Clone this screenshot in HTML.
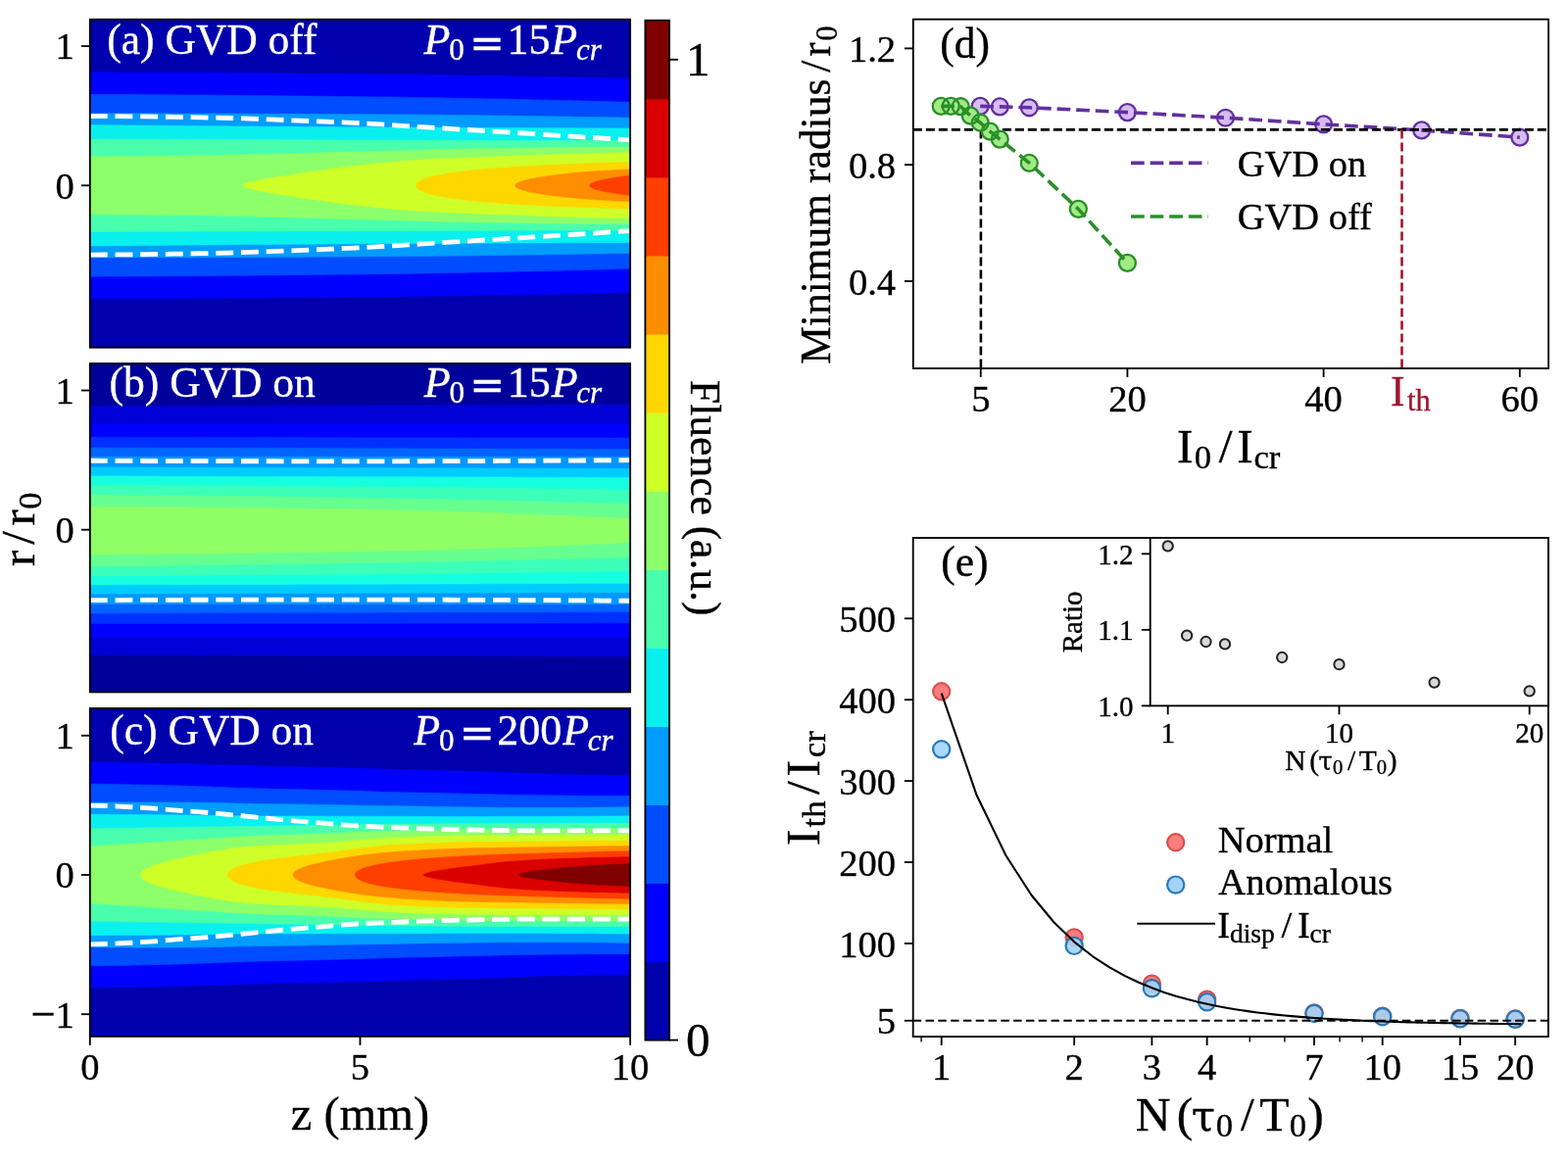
<!DOCTYPE html>
<html lang="en"><head><meta charset="utf-8"><title>Fluence maps and threshold intensity</title>
<style>html,body{margin:0;padding:0;background:#fff}body{width:1600px;height:1184px;overflow:hidden}svg{display:block}text{font-family:'Liberation Serif', 'DejaVu Serif', serif;stroke:#000;stroke-width:.35px}text.w{fill:#fff;stroke:#fff}text.c{fill:#a2142f;stroke:#a2142f}</style>
</head><body>
<svg width="1600" height="1184" viewBox="0 0 1600 1184">
<rect width="1600" height="1184" fill="#fff"/>
<g id="panel-a">
<clipPath id="clip-a"><rect x="91.8" y="19.8" width="551.3" height="334.9"/></clipPath>
<g clip-path="url(#clip-a)">
<rect x="91.8" y="19.8" width="551.3" height="334.9" fill="#0000ad"/>
<polygon fill="#0000ff" stroke="#0000ff" stroke-width="0.6" points="91.8,73.83 101.14,73.84 110.49,73.86 119.83,73.88 129.18,73.9 138.52,73.93 147.86,73.96 157.21,74 166.55,74.04 175.9,74.08 185.24,74.13 194.58,74.18 203.93,74.23 213.27,74.29 222.62,74.35 231.96,74.42 241.31,74.48 250.65,74.55 259.99,74.62 269.34,74.7 278.68,74.77 288.03,74.85 297.37,74.93 306.71,75.01 316.06,75.09 325.4,75.18 334.75,75.26 344.09,75.35 353.43,75.43 362.78,75.52 372.12,75.61 381.47,75.69 390.81,75.79 400.15,75.89 409.5,75.99 418.84,76.1 428.19,76.22 437.53,76.35 446.87,76.48 456.22,76.61 465.56,76.76 474.91,76.9 484.25,77.06 493.59,77.21 502.94,77.37 512.28,77.54 521.63,77.71 530.97,77.88 540.32,78.06 549.66,78.25 559,78.43 568.35,78.62 577.69,78.81 587.04,79.01 596.38,79.21 605.72,79.41 615.07,79.61 624.41,79.82 633.76,80.02 643.1,80.23 643.1,298.37 633.76,298.58 624.41,298.78 615.07,298.99 605.72,299.19 596.38,299.39 587.04,299.59 577.69,299.79 568.35,299.98 559,300.17 549.66,300.35 540.32,300.54 530.97,300.72 521.63,300.89 512.28,301.06 502.94,301.23 493.59,301.39 484.25,301.54 474.91,301.7 465.56,301.84 456.22,301.99 446.87,302.12 437.53,302.25 428.19,302.38 418.84,302.5 409.5,302.61 400.15,302.71 390.81,302.81 381.47,302.91 372.12,302.99 362.78,303.08 353.43,303.17 344.09,303.25 334.75,303.34 325.4,303.42 316.06,303.51 306.71,303.59 297.37,303.67 288.03,303.75 278.68,303.83 269.34,303.9 259.99,303.98 250.65,304.05 241.31,304.12 231.96,304.18 222.62,304.25 213.27,304.31 203.93,304.37 194.58,304.42 185.24,304.47 175.9,304.52 166.55,304.56 157.21,304.6 147.86,304.64 138.52,304.67 129.18,304.7 119.83,304.72 110.49,304.74 101.14,304.76 91.8,304.77"/>
<polygon fill="#004cff" stroke="#004cff" stroke-width="0.6" points="91.8,96.44 101.14,96.47 110.49,96.49 119.83,96.52 129.18,96.56 138.52,96.6 147.86,96.65 157.21,96.7 166.55,96.76 175.9,96.82 185.24,96.88 194.58,96.95 203.93,97.02 213.27,97.1 222.62,97.18 231.96,97.26 241.31,97.34 250.65,97.43 259.99,97.52 269.34,97.61 278.68,97.71 288.03,97.81 297.37,97.91 306.71,98.01 316.06,98.11 325.4,98.22 334.75,98.33 344.09,98.43 353.43,98.54 362.78,98.65 372.12,98.77 381.47,98.88 390.81,98.99 400.15,99.12 409.5,99.25 418.84,99.39 428.19,99.53 437.53,99.68 446.87,99.84 456.22,100 465.56,100.17 474.91,100.35 484.25,100.53 493.59,100.72 502.94,100.91 512.28,101.1 521.63,101.31 530.97,101.51 540.32,101.72 549.66,101.94 559,102.15 568.35,102.38 577.69,102.6 587.04,102.83 596.38,103.06 605.72,103.3 615.07,103.54 624.41,103.78 633.76,104.02 643.1,104.26 643.1,274.34 633.76,274.58 624.41,274.82 615.07,275.06 605.72,275.3 596.38,275.54 587.04,275.77 577.69,276 568.35,276.22 559,276.45 549.66,276.66 540.32,276.88 530.97,277.09 521.63,277.29 512.28,277.5 502.94,277.69 493.59,277.88 484.25,278.07 474.91,278.25 465.56,278.43 456.22,278.6 446.87,278.76 437.53,278.92 428.19,279.07 418.84,279.21 409.5,279.35 400.15,279.48 390.81,279.61 381.47,279.72 372.12,279.83 362.78,279.95 353.43,280.06 344.09,280.17 334.75,280.27 325.4,280.38 316.06,280.49 306.71,280.59 297.37,280.69 288.03,280.79 278.68,280.89 269.34,280.99 259.99,281.08 250.65,281.17 241.31,281.26 231.96,281.34 222.62,281.42 213.27,281.5 203.93,281.58 194.58,281.65 185.24,281.72 175.9,281.78 166.55,281.84 157.21,281.9 147.86,281.95 138.52,282 129.18,282.04 119.83,282.08 110.49,282.11 101.14,282.13 91.8,282.16"/>
<polygon fill="#009cff" stroke="#009cff" stroke-width="0.6" points="91.8,115.78 101.14,115.78 110.49,115.79 119.83,115.8 129.18,115.81 138.52,115.82 147.86,115.83 157.21,115.85 166.55,115.87 175.9,115.89 185.24,115.92 194.58,115.94 203.93,115.97 213.27,116 222.62,116.03 231.96,116.07 241.31,116.1 250.65,116.14 259.99,116.18 269.34,116.22 278.68,116.26 288.03,116.3 297.37,116.35 306.71,116.39 316.06,116.44 325.4,116.49 334.75,116.53 344.09,116.58 353.43,116.63 362.78,116.68 372.12,116.73 381.47,116.79 390.81,116.84 400.15,116.9 409.5,116.97 418.84,117.05 428.19,117.13 437.53,117.22 446.87,117.31 456.22,117.41 465.56,117.51 474.91,117.62 484.25,117.73 493.59,117.85 502.94,117.97 512.28,118.1 521.63,118.23 530.97,118.36 540.32,118.5 549.66,118.64 559,118.79 568.35,118.93 577.69,119.08 587.04,119.24 596.38,119.39 605.72,119.55 615.07,119.71 624.41,119.87 633.76,120.03 643.1,120.19 643.1,258.41 633.76,258.57 624.41,258.73 615.07,258.89 605.72,259.05 596.38,259.21 587.04,259.36 577.69,259.52 568.35,259.67 559,259.81 549.66,259.96 540.32,260.1 530.97,260.24 521.63,260.37 512.28,260.5 502.94,260.63 493.59,260.75 484.25,260.87 474.91,260.98 465.56,261.09 456.22,261.19 446.87,261.29 437.53,261.38 428.19,261.47 418.84,261.55 409.5,261.63 400.15,261.7 390.81,261.76 381.47,261.81 372.12,261.87 362.78,261.92 353.43,261.97 344.09,262.02 334.75,262.07 325.4,262.11 316.06,262.16 306.71,262.21 297.37,262.25 288.03,262.3 278.68,262.34 269.34,262.38 259.99,262.42 250.65,262.46 241.31,262.5 231.96,262.53 222.62,262.57 213.27,262.6 203.93,262.63 194.58,262.66 185.24,262.68 175.9,262.71 166.55,262.73 157.21,262.75 147.86,262.77 138.52,262.78 129.18,262.79 119.83,262.8 110.49,262.81 101.14,262.82 91.8,262.82"/>
<polygon fill="#09f0ee" stroke="#09f0ee" stroke-width="0.6" points="91.8,127.59 101.14,127.68 110.49,127.77 119.83,127.85 129.18,127.94 138.52,128.03 147.86,128.12 157.21,128.2 166.55,128.28 175.9,128.37 185.24,128.45 194.58,128.53 203.93,128.61 213.27,128.69 222.62,128.77 231.96,128.84 241.31,128.92 250.65,128.99 259.99,129.06 269.34,129.13 278.68,129.2 288.03,129.27 297.37,129.34 306.71,129.4 316.06,129.47 325.4,129.53 334.75,129.59 344.09,129.65 353.43,129.71 362.78,129.76 372.12,129.82 381.47,129.87 390.81,129.92 400.15,129.97 409.5,130.02 418.84,130.07 428.19,130.12 437.53,130.17 446.87,130.22 456.22,130.26 465.56,130.31 474.91,130.36 484.25,130.4 493.59,130.44 502.94,130.49 512.28,130.53 521.63,130.57 530.97,130.61 540.32,130.65 549.66,130.69 559,130.72 568.35,130.76 577.69,130.79 587.04,130.83 596.38,130.86 605.72,130.89 615.07,130.92 624.41,130.95 633.76,130.97 643.1,131 643.1,247.6 633.76,247.63 624.41,247.65 615.07,247.68 605.72,247.71 596.38,247.74 587.04,247.77 577.69,247.81 568.35,247.84 559,247.88 549.66,247.91 540.32,247.95 530.97,247.99 521.63,248.03 512.28,248.07 502.94,248.11 493.59,248.16 484.25,248.2 474.91,248.24 465.56,248.29 456.22,248.34 446.87,248.38 437.53,248.43 428.19,248.48 418.84,248.53 409.5,248.58 400.15,248.63 390.81,248.68 381.47,248.73 372.12,248.78 362.78,248.84 353.43,248.89 344.09,248.95 334.75,249.01 325.4,249.07 316.06,249.13 306.71,249.2 297.37,249.26 288.03,249.33 278.68,249.4 269.34,249.47 259.99,249.54 250.65,249.61 241.31,249.68 231.96,249.76 222.62,249.83 213.27,249.91 203.93,249.99 194.58,250.07 185.24,250.15 175.9,250.23 166.55,250.32 157.21,250.4 147.86,250.48 138.52,250.57 129.18,250.66 119.83,250.75 110.49,250.83 101.14,250.92 91.8,251.01"/>
<polygon fill="#49ffad" stroke="#49ffad" stroke-width="0.6" points="91.8,142.09 101.14,142.13 110.49,142.17 119.83,142.2 129.18,142.24 138.52,142.28 147.86,142.31 157.21,142.35 166.55,142.39 175.9,142.42 185.24,142.46 194.58,142.49 203.93,142.53 213.27,142.56 222.62,142.59 231.96,142.63 241.31,142.66 250.65,142.69 259.99,142.72 269.34,142.75 278.68,142.78 288.03,142.81 297.37,142.84 306.71,142.87 316.06,142.9 325.4,142.93 334.75,142.96 344.09,142.99 353.43,143.01 362.78,143.04 372.12,143.06 381.47,143.09 390.81,143.11 400.15,143.14 409.5,143.16 418.84,143.19 428.19,143.21 437.53,143.23 446.87,143.26 456.22,143.28 465.56,143.3 474.91,143.32 484.25,143.34 493.59,143.37 502.94,143.39 512.28,143.41 521.63,143.43 530.97,143.45 540.32,143.47 549.66,143.49 559,143.5 568.35,143.52 577.69,143.54 587.04,143.56 596.38,143.58 605.72,143.59 615.07,143.61 624.41,143.62 633.76,143.64 643.1,143.65 643.1,234.95 633.76,234.96 624.41,234.98 615.07,234.99 605.72,235.01 596.38,235.02 587.04,235.04 577.69,235.06 568.35,235.08 559,235.1 549.66,235.11 540.32,235.13 530.97,235.15 521.63,235.17 512.28,235.19 502.94,235.21 493.59,235.23 484.25,235.26 474.91,235.28 465.56,235.3 456.22,235.32 446.87,235.34 437.53,235.37 428.19,235.39 418.84,235.41 409.5,235.44 400.15,235.46 390.81,235.49 381.47,235.51 372.12,235.54 362.78,235.56 353.43,235.59 344.09,235.61 334.75,235.64 325.4,235.67 316.06,235.7 306.71,235.73 297.37,235.76 288.03,235.79 278.68,235.82 269.34,235.85 259.99,235.88 250.65,235.91 241.31,235.94 231.96,235.97 222.62,236.01 213.27,236.04 203.93,236.07 194.58,236.11 185.24,236.14 175.9,236.18 166.55,236.21 157.21,236.25 147.86,236.29 138.52,236.32 129.18,236.36 119.83,236.4 110.49,236.43 101.14,236.47 91.8,236.51"/>
<polygon fill="#8dff6a" stroke="#8dff6a" stroke-width="0.6" points="91.8,159.86 101.14,159.82 110.49,159.76 119.83,159.69 129.18,159.62 138.52,159.53 147.86,159.43 157.21,159.32 166.55,159.21 175.9,159.09 185.24,158.96 194.58,158.83 203.93,158.7 213.27,158.55 222.62,158.41 231.96,158.26 241.31,158.1 250.65,157.91 259.99,157.7 269.34,157.47 278.68,157.23 288.03,156.97 297.37,156.71 306.71,156.44 316.06,156.17 325.4,155.9 334.75,155.63 344.09,155.36 353.43,155.11 362.78,154.86 372.12,154.63 381.47,154.39 390.81,154.15 400.15,153.9 409.5,153.65 418.84,153.41 428.19,153.16 437.53,152.92 446.87,152.68 456.22,152.46 465.56,152.24 474.91,152.04 484.25,151.84 493.59,151.67 502.94,151.51 512.28,151.37 521.63,151.23 530.97,151.09 540.32,150.96 549.66,150.83 559,150.71 568.35,150.59 577.69,150.48 587.04,150.37 596.38,150.27 605.72,150.18 615.07,150.1 624.41,150.03 633.76,149.96 643.1,149.91 643.1,228.69 633.76,228.64 624.41,228.57 615.07,228.5 605.72,228.42 596.38,228.33 587.04,228.23 577.69,228.12 568.35,228.01 559,227.89 549.66,227.77 540.32,227.64 530.97,227.51 521.63,227.37 512.28,227.23 502.94,227.09 493.59,226.93 484.25,226.76 474.91,226.56 465.56,226.36 456.22,226.14 446.87,225.92 437.53,225.68 428.19,225.44 418.84,225.19 409.5,224.95 400.15,224.7 390.81,224.45 381.47,224.21 372.12,223.97 362.78,223.74 353.43,223.49 344.09,223.24 334.75,222.97 325.4,222.7 316.06,222.43 306.71,222.16 297.37,221.89 288.03,221.63 278.68,221.37 269.34,221.13 259.99,220.9 250.65,220.69 241.31,220.5 231.96,220.34 222.62,220.19 213.27,220.05 203.93,219.9 194.58,219.77 185.24,219.64 175.9,219.51 166.55,219.39 157.21,219.28 147.86,219.17 138.52,219.07 129.18,218.98 119.83,218.91 110.49,218.84 101.14,218.78 91.8,218.74"/>
<polygon fill="#ceff29" stroke="#ceff29" stroke-width="0.6" points="248.37,189.3 248.48,188.96 248.82,188.59 249.39,188.2 250.18,187.78 251.2,187.35 252.45,186.89 253.93,186.42 255.63,185.93 257.55,185.42 259.71,184.9 262.09,184.36 264.7,183.81 267.53,183.25 270.59,182.68 273.88,182.09 277.4,181.5 281.14,180.9 285.11,180.28 289.31,179.62 293.73,178.91 298.38,178.18 303.25,177.42 308.36,176.64 313.69,175.86 319.24,175.07 325.02,174.24 331.03,173.38 337.27,172.5 343.74,171.62 350.43,170.74 357.34,169.89 364.49,169.06 371.86,168.27 379.45,167.48 387.28,166.69 395.33,165.9 403.61,165.15 412.11,164.42 420.84,163.75 429.8,163.14 438.99,162.59 448.4,162.12 458.04,161.68 467.9,161.28 478,160.9 488.31,160.53 498.86,160.14 509.63,159.74 520.63,159.33 531.86,158.91 543.31,158.49 554.99,158.09 566.9,157.7 579.03,157.34 591.39,156.99 603.98,156.66 616.79,156.34 629.83,156.03 643.1,155.74 643.1,222.86 629.83,222.57 616.79,222.26 603.98,221.94 591.39,221.61 579.03,221.26 566.9,220.9 554.99,220.51 543.31,220.11 531.86,219.69 520.63,219.27 509.63,218.86 498.86,218.46 488.31,218.07 478,217.7 467.9,217.32 458.04,216.92 448.4,216.48 438.99,216.01 429.8,215.46 420.84,214.85 412.11,214.18 403.61,213.45 395.33,212.7 387.28,211.91 379.45,211.12 371.86,210.33 364.49,209.54 357.34,208.71 350.43,207.86 343.74,206.98 337.27,206.1 331.03,205.22 325.02,204.36 319.24,203.53 313.69,202.74 308.36,201.96 303.25,201.18 298.38,200.42 293.73,199.69 289.31,198.98 285.11,198.32 281.14,197.7 277.4,197.1 273.88,196.51 270.59,195.92 267.53,195.35 264.7,194.79 262.09,194.24 259.71,193.7 257.55,193.18 255.63,192.67 253.93,192.18 252.45,191.71 251.2,191.25 250.18,190.82 249.39,190.4 248.82,190.01 248.48,189.64 248.37,189.3"/>
<polygon fill="#ffd700" stroke="#ffd700" stroke-width="0.6" points="424.79,189.3 424.85,188.67 425.04,188.04 425.35,187.43 425.79,186.82 426.35,186.22 427.04,185.62 427.86,185.04 428.8,184.46 429.87,183.89 431.06,183.33 432.37,182.77 433.82,182.23 435.38,181.69 437.08,181.16 438.9,180.64 440.84,180.13 442.91,179.63 445.11,179.14 447.43,178.65 449.87,178.18 452.44,177.71 455.14,177.26 457.96,176.81 460.91,176.37 463.98,175.93 467.18,175.5 470.51,175.08 473.95,174.66 477.53,174.25 481.23,173.85 485.06,173.46 489.01,173.07 493.08,172.69 497.29,172.32 501.61,171.96 506.07,171.61 510.64,171.26 515.35,170.93 520.18,170.6 525.13,170.28 530.21,169.98 535.42,169.68 540.75,169.4 546.2,169.13 551.79,168.86 557.49,168.6 563.33,168.34 569.28,168.08 575.37,167.82 581.58,167.57 587.91,167.32 594.37,167.07 600.95,166.82 607.67,166.58 614.5,166.34 621.46,166.1 628.55,165.87 635.76,165.64 643.1,165.41 643.1,213.19 635.76,212.96 628.55,212.73 621.46,212.5 614.5,212.26 607.67,212.02 600.95,211.78 594.37,211.53 587.91,211.28 581.58,211.03 575.37,210.78 569.28,210.52 563.33,210.26 557.49,210 551.79,209.74 546.2,209.47 540.75,209.2 535.42,208.92 530.21,208.62 525.13,208.32 520.18,208 515.35,207.67 510.64,207.34 506.07,206.99 501.61,206.64 497.29,206.28 493.08,205.91 489.01,205.53 485.06,205.14 481.23,204.75 477.53,204.35 473.95,203.94 470.51,203.52 467.18,203.1 463.98,202.67 460.91,202.23 457.96,201.79 455.14,201.34 452.44,200.89 449.87,200.42 447.43,199.95 445.11,199.46 442.91,198.97 440.84,198.47 438.9,197.96 437.08,197.44 435.38,196.91 433.82,196.37 432.37,195.83 431.06,195.27 429.87,194.71 428.8,194.14 427.86,193.56 427.04,192.98 426.35,192.38 425.79,191.78 425.35,191.17 425.04,190.56 424.85,189.93 424.79,189.3"/>
<polygon fill="#ff8d00" stroke="#ff8d00" stroke-width="0.6" points="525.67,189.3 525.71,188.99 525.81,188.67 525.98,188.36 526.21,188.05 526.52,187.74 526.89,187.43 527.33,187.12 527.83,186.81 528.41,186.5 529.05,186.19 529.75,185.88 530.53,185.58 531.37,185.27 532.28,184.96 533.26,184.66 534.31,184.36 535.42,184.05 536.6,183.75 537.85,183.45 539.17,183.14 540.55,182.84 542,182.54 543.52,182.24 545.1,181.94 546.76,181.64 548.48,181.34 550.26,181.04 552.12,180.74 554.04,180.45 556.03,180.15 558.09,179.85 560.22,179.55 562.41,179.25 564.67,178.94 567,178.63 569.39,178.33 571.85,178.02 574.38,177.72 576.98,177.42 579.65,177.13 582.38,176.84 585.18,176.57 588.05,176.3 590.98,176.05 593.98,175.81 597.05,175.57 600.19,175.34 603.4,175.11 606.67,174.88 610.01,174.66 613.41,174.45 616.89,174.24 620.43,174.04 624.04,173.84 627.72,173.65 631.46,173.46 635.27,173.28 639.15,173.11 643.1,172.95 643.1,205.65 639.15,205.49 635.27,205.32 631.46,205.14 627.72,204.95 624.04,204.76 620.43,204.56 616.89,204.36 613.41,204.15 610.01,203.94 606.67,203.72 603.4,203.49 600.19,203.26 597.05,203.03 593.98,202.79 590.98,202.55 588.05,202.3 585.18,202.03 582.38,201.76 579.65,201.47 576.98,201.18 574.38,200.88 571.85,200.58 569.39,200.27 567,199.97 564.67,199.66 562.41,199.35 560.22,199.05 558.09,198.75 556.03,198.45 554.04,198.15 552.12,197.86 550.26,197.56 548.48,197.26 546.76,196.96 545.1,196.66 543.52,196.36 542,196.06 540.55,195.76 539.17,195.46 537.85,195.15 536.6,194.85 535.42,194.55 534.31,194.24 533.26,193.94 532.28,193.64 531.37,193.33 530.53,193.02 529.75,192.72 529.05,192.41 528.41,192.1 527.83,191.79 527.33,191.48 526.89,191.17 526.52,190.86 526.21,190.55 525.98,190.24 525.81,189.93 525.71,189.61 525.67,189.3"/>
<polygon fill="#ff3f00" stroke="#ff3f00" stroke-width="0.6" points="601.75,189.3 601.76,189.13 601.8,188.96 601.86,188.79 601.94,188.62 602.05,188.44 602.18,188.27 602.33,188.1 602.51,187.93 602.71,187.76 602.94,187.59 603.19,187.42 603.46,187.25 603.76,187.08 604.08,186.9 604.43,186.73 604.79,186.56 605.19,186.39 605.6,186.22 606.04,186.05 606.5,185.88 606.99,185.71 607.5,185.54 608.04,185.36 608.59,185.19 609.18,185.02 609.78,184.85 610.41,184.68 611.06,184.51 611.74,184.34 612.44,184.17 613.17,184 613.92,183.82 614.69,183.65 615.48,183.48 616.3,183.31 617.15,183.14 618.01,182.97 618.9,182.8 619.82,182.63 620.76,182.46 621.72,182.28 622.71,182.11 623.72,181.94 624.75,181.77 625.81,181.6 626.89,181.43 627.99,181.26 629.12,181.09 630.27,180.92 631.45,180.74 632.65,180.57 633.87,180.4 635.12,180.23 636.39,180.06 637.68,179.89 639,179.72 640.34,179.55 641.71,179.37 643.1,179.2 643.1,199.4 641.71,199.23 640.34,199.05 639,198.88 637.68,198.71 636.39,198.54 635.12,198.37 633.87,198.2 632.65,198.03 631.45,197.86 630.27,197.68 629.12,197.51 627.99,197.34 626.89,197.17 625.81,197 624.75,196.83 623.72,196.66 622.71,196.49 621.72,196.32 620.76,196.14 619.82,195.97 618.9,195.8 618.01,195.63 617.15,195.46 616.3,195.29 615.48,195.12 614.69,194.95 613.92,194.78 613.17,194.6 612.44,194.43 611.74,194.26 611.06,194.09 610.41,193.92 609.78,193.75 609.18,193.58 608.59,193.41 608.04,193.24 607.5,193.06 606.99,192.89 606.5,192.72 606.04,192.55 605.6,192.38 605.19,192.21 604.79,192.04 604.43,191.87 604.08,191.7 603.76,191.52 603.46,191.35 603.19,191.18 602.94,191.01 602.71,190.84 602.51,190.67 602.33,190.5 602.18,190.33 602.05,190.16 601.94,189.98 601.86,189.81 601.8,189.64 601.76,189.47 601.75,189.3"/>
<path d="M91.8,118.56 L105.94,118.58 L120.07,118.66 L134.21,118.79 L148.34,118.95 L162.48,119.15 L176.62,119.38 L190.75,119.63 L204.89,119.9 L219.02,120.19 L233.16,120.48 L247.29,120.89 L261.43,121.4 L275.57,121.96 L289.7,122.51 L303.84,123.06 L317.97,123.62 L332.11,124.2 L346.25,124.81 L360.38,125.46 L374.52,126.16 L388.65,126.93 L402.79,127.82 L416.93,128.77 L431.06,129.7 L445.2,130.58 L459.33,131.44 L473.47,132.29 L487.61,133.14 L501.74,134 L515.88,134.87 L530.01,135.75 L544.15,136.64 L558.28,137.54 L572.42,138.43 L586.56,139.33 L600.69,140.23 L614.83,141.13 L628.96,142.04 L643.1,142.94" fill="none" stroke="#fff" stroke-width="4.8" stroke-dasharray="17.9 7.8"/>
<path d="M91.8,260.04 L105.94,260.02 L120.07,259.94 L134.21,259.81 L148.34,259.65 L162.48,259.45 L176.62,259.22 L190.75,258.97 L204.89,258.7 L219.02,258.41 L233.16,258.12 L247.29,257.71 L261.43,257.2 L275.57,256.64 L289.7,256.09 L303.84,255.54 L317.97,254.98 L332.11,254.4 L346.25,253.79 L360.38,253.14 L374.52,252.44 L388.65,251.67 L402.79,250.78 L416.93,249.83 L431.06,248.9 L445.2,248.02 L459.33,247.16 L473.47,246.31 L487.61,245.46 L501.74,244.6 L515.88,243.73 L530.01,242.85 L544.15,241.96 L558.28,241.06 L572.42,240.17 L586.56,239.27 L600.69,238.37 L614.83,237.47 L628.96,236.56 L643.1,235.66" fill="none" stroke="#fff" stroke-width="4.8" stroke-dasharray="17.9 7.8"/>
</g>
<rect x="91.8" y="19.8" width="551.3" height="334.9" fill="none" stroke="#000" stroke-width="1.85"/>
<line x1="82.88" y1="47.1" x2="91.8" y2="47.1" stroke="#000" stroke-width="1.85"/>
<text x="75.8" y="60.4" text-anchor="end" font-size="38.5">1</text>
<line x1="82.88" y1="189.3" x2="91.8" y2="189.3" stroke="#000" stroke-width="1.85"/>
<text x="75.8" y="202.6" text-anchor="end" font-size="38.5">0</text>
<text class="w"><tspan x="109.34" y="55.1" font-size="43.5">(a) GVD off</tspan></text>
<text class="w"><tspan x="432.44" y="55.1" font-size="44" font-style="italic">P</tspan><tspan x="458.32" y="61.1" font-size="31">0</tspan><tspan x="479.04" y="57.5" font-size="43" font-family="'DejaVu Sans', sans-serif">=</tspan><tspan x="517.5" y="55.1" font-size="44">15</tspan><tspan x="562.34" y="55.1" font-size="44" font-style="italic">P</tspan><tspan x="588.05" y="61.1" font-size="31" font-style="italic">cr</tspan></text>
</g>
<g id="panel-b">
<clipPath id="clip-b"><rect x="91.8" y="371" width="551.3" height="335.4"/></clipPath>
<g clip-path="url(#clip-b)">
<rect x="91.8" y="371" width="551.3" height="335.4" fill="#00009b"/>
<polygon fill="#0000d6" stroke="#0000d6" stroke-width="0.6" points="91.8,414.43 101.14,414.4 110.49,414.37 119.83,414.35 129.18,414.32 138.52,414.29 147.86,414.27 157.21,414.24 166.55,414.21 175.9,414.19 185.24,414.16 194.58,414.13 203.93,414.11 213.27,414.08 222.62,414.06 231.96,414.03 241.31,414 250.65,413.98 259.99,413.95 269.34,413.92 278.68,413.9 288.03,413.87 297.37,413.84 306.71,413.82 316.06,413.79 325.4,413.76 334.75,413.74 344.09,413.71 353.43,413.68 362.78,413.66 372.12,413.63 381.47,413.6 390.81,413.58 400.15,413.55 409.5,413.52 418.84,413.5 428.19,413.47 437.53,413.45 446.87,413.42 456.22,413.39 465.56,413.37 474.91,413.34 484.25,413.31 493.59,413.29 502.94,413.26 512.28,413.23 521.63,413.21 530.97,413.18 540.32,413.15 549.66,413.13 559,413.1 568.35,413.07 577.69,413.05 587.04,413.02 596.38,412.99 605.72,412.97 615.07,412.94 624.41,412.92 633.76,412.89 643.1,412.86 643.1,670.04 633.76,670.01 624.41,669.98 615.07,669.96 605.72,669.93 596.38,669.91 587.04,669.88 577.69,669.85 568.35,669.83 559,669.8 549.66,669.77 540.32,669.75 530.97,669.72 521.63,669.69 512.28,669.67 502.94,669.64 493.59,669.61 484.25,669.59 474.91,669.56 465.56,669.53 456.22,669.51 446.87,669.48 437.53,669.45 428.19,669.43 418.84,669.4 409.5,669.38 400.15,669.35 390.81,669.32 381.47,669.3 372.12,669.27 362.78,669.24 353.43,669.22 344.09,669.19 334.75,669.16 325.4,669.14 316.06,669.11 306.71,669.08 297.37,669.06 288.03,669.03 278.68,669 269.34,668.98 259.99,668.95 250.65,668.92 241.31,668.9 231.96,668.87 222.62,668.84 213.27,668.82 203.93,668.79 194.58,668.77 185.24,668.74 175.9,668.71 166.55,668.69 157.21,668.66 147.86,668.63 138.52,668.61 129.18,668.58 119.83,668.55 110.49,668.53 101.14,668.5 91.8,668.47"/>
<polygon fill="#0000ff" stroke="#0000ff" stroke-width="0.6" points="91.8,432.63 101.14,432.63 110.49,432.63 119.83,432.63 129.18,432.63 138.52,432.63 147.86,432.63 157.21,432.63 166.55,432.63 175.9,432.63 185.24,432.63 194.58,432.63 203.93,432.63 213.27,432.63 222.62,432.63 231.96,432.63 241.31,432.63 250.65,432.63 259.99,432.63 269.34,432.63 278.68,432.63 288.03,432.63 297.37,432.63 306.71,432.63 316.06,432.63 325.4,432.63 334.75,432.63 344.09,432.63 353.43,432.63 362.78,432.63 372.12,432.63 381.47,432.63 390.81,432.63 400.15,432.63 409.5,432.63 418.84,432.63 428.19,432.63 437.53,432.63 446.87,432.63 456.22,432.63 465.56,432.63 474.91,432.63 484.25,432.63 493.59,432.63 502.94,432.63 512.28,432.63 521.63,432.63 530.97,432.63 540.32,432.63 549.66,432.63 559,432.63 568.35,432.63 577.69,432.63 587.04,432.63 596.38,432.63 605.72,432.63 615.07,432.63 624.41,432.63 633.76,432.63 643.1,432.63 643.1,650.27 633.76,650.27 624.41,650.27 615.07,650.27 605.72,650.27 596.38,650.27 587.04,650.27 577.69,650.27 568.35,650.27 559,650.27 549.66,650.27 540.32,650.27 530.97,650.27 521.63,650.27 512.28,650.27 502.94,650.27 493.59,650.27 484.25,650.27 474.91,650.27 465.56,650.27 456.22,650.27 446.87,650.27 437.53,650.27 428.19,650.27 418.84,650.27 409.5,650.27 400.15,650.27 390.81,650.27 381.47,650.27 372.12,650.27 362.78,650.27 353.43,650.27 344.09,650.27 334.75,650.27 325.4,650.27 316.06,650.27 306.71,650.27 297.37,650.27 288.03,650.27 278.68,650.27 269.34,650.27 259.99,650.27 250.65,650.27 241.31,650.27 231.96,650.27 222.62,650.27 213.27,650.27 203.93,650.27 194.58,650.27 185.24,650.27 175.9,650.27 166.55,650.27 157.21,650.27 147.86,650.27 138.52,650.27 129.18,650.27 119.83,650.27 110.49,650.27 101.14,650.27 91.8,650.27"/>
<polygon fill="#0030ff" stroke="#0030ff" stroke-width="0.6" points="91.8,446.28 101.14,446.29 110.49,446.31 119.83,446.32 129.18,446.34 138.52,446.35 147.86,446.37 157.21,446.38 166.55,446.39 175.9,446.41 185.24,446.42 194.58,446.44 203.93,446.45 213.27,446.47 222.62,446.48 231.96,446.5 241.31,446.51 250.65,446.53 259.99,446.54 269.34,446.55 278.68,446.57 288.03,446.58 297.37,446.6 306.71,446.61 316.06,446.63 325.4,446.64 334.75,446.66 344.09,446.67 353.43,446.68 362.78,446.7 372.12,446.71 381.47,446.73 390.81,446.74 400.15,446.76 409.5,446.77 418.84,446.79 428.19,446.8 437.53,446.81 446.87,446.83 456.22,446.84 465.56,446.86 474.91,446.87 484.25,446.89 493.59,446.9 502.94,446.92 512.28,446.93 521.63,446.94 530.97,446.96 540.32,446.97 549.66,446.99 559,447 568.35,447.02 577.69,447.03 587.04,447.05 596.38,447.06 605.72,447.07 615.07,447.09 624.41,447.1 633.76,447.12 643.1,447.13 643.1,635.77 633.76,635.78 624.41,635.8 615.07,635.81 605.72,635.83 596.38,635.84 587.04,635.85 577.69,635.87 568.35,635.88 559,635.9 549.66,635.91 540.32,635.93 530.97,635.94 521.63,635.96 512.28,635.97 502.94,635.98 493.59,636 484.25,636.01 474.91,636.03 465.56,636.04 456.22,636.06 446.87,636.07 437.53,636.09 428.19,636.1 418.84,636.11 409.5,636.13 400.15,636.14 390.81,636.16 381.47,636.17 372.12,636.19 362.78,636.2 353.43,636.22 344.09,636.23 334.75,636.24 325.4,636.26 316.06,636.27 306.71,636.29 297.37,636.3 288.03,636.32 278.68,636.33 269.34,636.35 259.99,636.36 250.65,636.37 241.31,636.39 231.96,636.4 222.62,636.42 213.27,636.43 203.93,636.45 194.58,636.46 185.24,636.48 175.9,636.49 166.55,636.51 157.21,636.52 147.86,636.53 138.52,636.55 129.18,636.56 119.83,636.58 110.49,636.59 101.14,636.61 91.8,636.62"/>
<polygon fill="#0064ff" stroke="#0064ff" stroke-width="0.6" points="91.8,456.94 101.14,456.97 110.49,457 119.83,457.02 129.18,457.05 138.52,457.08 147.86,457.1 157.21,457.13 166.55,457.16 175.9,457.18 185.24,457.21 194.58,457.24 203.93,457.26 213.27,457.29 222.62,457.32 231.96,457.34 241.31,457.37 250.65,457.39 259.99,457.42 269.34,457.45 278.68,457.47 288.03,457.5 297.37,457.53 306.71,457.55 316.06,457.58 325.4,457.61 334.75,457.63 344.09,457.66 353.43,457.69 362.78,457.71 372.12,457.74 381.47,457.77 390.81,457.79 400.15,457.82 409.5,457.85 418.84,457.87 428.19,457.9 437.53,457.93 446.87,457.95 456.22,457.98 465.56,458 474.91,458.03 484.25,458.06 493.59,458.08 502.94,458.11 512.28,458.14 521.63,458.16 530.97,458.19 540.32,458.22 549.66,458.24 559,458.27 568.35,458.3 577.69,458.32 587.04,458.35 596.38,458.38 605.72,458.4 615.07,458.43 624.41,458.46 633.76,458.48 643.1,458.51 643.1,624.39 633.76,624.42 624.41,624.44 615.07,624.47 605.72,624.5 596.38,624.52 587.04,624.55 577.69,624.58 568.35,624.6 559,624.63 549.66,624.66 540.32,624.68 530.97,624.71 521.63,624.74 512.28,624.76 502.94,624.79 493.59,624.82 484.25,624.84 474.91,624.87 465.56,624.9 456.22,624.92 446.87,624.95 437.53,624.97 428.19,625 418.84,625.03 409.5,625.05 400.15,625.08 390.81,625.11 381.47,625.13 372.12,625.16 362.78,625.19 353.43,625.21 344.09,625.24 334.75,625.27 325.4,625.29 316.06,625.32 306.71,625.35 297.37,625.37 288.03,625.4 278.68,625.43 269.34,625.45 259.99,625.48 250.65,625.51 241.31,625.53 231.96,625.56 222.62,625.58 213.27,625.61 203.93,625.64 194.58,625.66 185.24,625.69 175.9,625.72 166.55,625.74 157.21,625.77 147.86,625.8 138.52,625.82 129.18,625.85 119.83,625.88 110.49,625.9 101.14,625.93 91.8,625.96"/>
<polygon fill="#0098ff" stroke="#0098ff" stroke-width="0.6" points="91.8,466.19 101.14,466.19 110.49,466.19 119.83,466.19 129.18,466.19 138.52,466.19 147.86,466.19 157.21,466.19 166.55,466.19 175.9,466.19 185.24,466.19 194.58,466.19 203.93,466.19 213.27,466.19 222.62,466.19 231.96,466.19 241.31,466.19 250.65,466.19 259.99,466.19 269.34,466.19 278.68,466.19 288.03,466.19 297.37,466.19 306.71,466.19 316.06,466.19 325.4,466.19 334.75,466.19 344.09,466.19 353.43,466.19 362.78,466.19 372.12,466.19 381.47,466.19 390.81,466.19 400.15,466.19 409.5,466.19 418.84,466.19 428.19,466.19 437.53,466.19 446.87,466.19 456.22,466.19 465.56,466.19 474.91,466.19 484.25,466.19 493.59,466.19 502.94,466.19 512.28,466.19 521.63,466.19 530.97,466.19 540.32,466.19 549.66,466.19 559,466.19 568.35,466.19 577.69,466.19 587.04,466.19 596.38,466.19 605.72,466.19 615.07,466.19 624.41,466.19 633.76,466.19 643.1,466.19 643.1,616.71 633.76,616.71 624.41,616.71 615.07,616.71 605.72,616.71 596.38,616.71 587.04,616.71 577.69,616.71 568.35,616.71 559,616.71 549.66,616.71 540.32,616.71 530.97,616.71 521.63,616.71 512.28,616.71 502.94,616.71 493.59,616.71 484.25,616.71 474.91,616.71 465.56,616.71 456.22,616.71 446.87,616.71 437.53,616.71 428.19,616.71 418.84,616.71 409.5,616.71 400.15,616.71 390.81,616.71 381.47,616.71 372.12,616.71 362.78,616.71 353.43,616.71 344.09,616.71 334.75,616.71 325.4,616.71 316.06,616.71 306.71,616.71 297.37,616.71 288.03,616.71 278.68,616.71 269.34,616.71 259.99,616.71 250.65,616.71 241.31,616.71 231.96,616.71 222.62,616.71 213.27,616.71 203.93,616.71 194.58,616.71 185.24,616.71 175.9,616.71 166.55,616.71 157.21,616.71 147.86,616.71 138.52,616.71 129.18,616.71 119.83,616.71 110.49,616.71 101.14,616.71 91.8,616.71"/>
<polygon fill="#00ccff" stroke="#00ccff" stroke-width="0.6" points="91.8,476.85 101.14,476.88 110.49,476.9 119.83,476.92 129.18,476.95 138.52,476.97 147.86,477 157.21,477.02 166.55,477.05 175.9,477.07 185.24,477.09 194.58,477.12 203.93,477.14 213.27,477.17 222.62,477.19 231.96,477.21 241.31,477.24 250.65,477.26 259.99,477.29 269.34,477.31 278.68,477.33 288.03,477.36 297.37,477.38 306.71,477.41 316.06,477.43 325.4,477.45 334.75,477.48 344.09,477.5 353.43,477.53 362.78,477.55 372.12,477.58 381.47,477.6 390.81,477.62 400.15,477.65 409.5,477.67 418.84,477.7 428.19,477.72 437.53,477.74 446.87,477.77 456.22,477.79 465.56,477.82 474.91,477.84 484.25,477.86 493.59,477.89 502.94,477.91 512.28,477.94 521.63,477.96 530.97,477.98 540.32,478.01 549.66,478.03 559,478.06 568.35,478.08 577.69,478.11 587.04,478.13 596.38,478.15 605.72,478.18 615.07,478.2 624.41,478.23 633.76,478.25 643.1,478.27 643.1,604.63 633.76,604.65 624.41,604.67 615.07,604.7 605.72,604.72 596.38,604.75 587.04,604.77 577.69,604.79 568.35,604.82 559,604.84 549.66,604.87 540.32,604.89 530.97,604.92 521.63,604.94 512.28,604.96 502.94,604.99 493.59,605.01 484.25,605.04 474.91,605.06 465.56,605.08 456.22,605.11 446.87,605.13 437.53,605.16 428.19,605.18 418.84,605.2 409.5,605.23 400.15,605.25 390.81,605.28 381.47,605.3 372.12,605.32 362.78,605.35 353.43,605.37 344.09,605.4 334.75,605.42 325.4,605.45 316.06,605.47 306.71,605.49 297.37,605.52 288.03,605.54 278.68,605.57 269.34,605.59 259.99,605.61 250.65,605.64 241.31,605.66 231.96,605.69 222.62,605.71 213.27,605.73 203.93,605.76 194.58,605.78 185.24,605.81 175.9,605.83 166.55,605.85 157.21,605.88 147.86,605.9 138.52,605.93 129.18,605.95 119.83,605.98 110.49,606 101.14,606.02 91.8,606.05"/>
<polygon fill="#16ffe1" stroke="#16ffe1" stroke-width="0.6" points="91.8,485.95 101.14,485.98 110.49,486 119.83,486.03 129.18,486.05 138.52,486.08 147.86,486.1 157.21,486.13 166.55,486.16 175.9,486.18 185.24,486.21 194.58,486.23 203.93,486.26 213.27,486.28 222.62,486.31 231.96,486.33 241.31,486.36 250.65,486.38 259.99,486.41 269.34,486.43 278.68,486.46 288.03,486.48 297.37,486.51 306.71,486.54 316.06,486.56 325.4,486.59 334.75,486.61 344.09,486.64 353.43,486.66 362.78,486.69 372.12,486.71 381.47,486.74 390.81,486.76 400.15,486.79 409.5,486.81 418.84,486.84 428.19,486.86 437.53,486.89 446.87,486.91 456.22,486.94 465.56,486.97 474.91,486.99 484.25,487.02 493.59,487.04 502.94,487.07 512.28,487.09 521.63,487.12 530.97,487.14 540.32,487.17 549.66,487.19 559,487.22 568.35,487.24 577.69,487.27 587.04,487.29 596.38,487.32 605.72,487.34 615.07,487.37 624.41,487.4 633.76,487.42 643.1,487.45 643.1,595.45 633.76,595.48 624.41,595.5 615.07,595.53 605.72,595.56 596.38,595.58 587.04,595.61 577.69,595.63 568.35,595.66 559,595.68 549.66,595.71 540.32,595.73 530.97,595.76 521.63,595.78 512.28,595.81 502.94,595.83 493.59,595.86 484.25,595.88 474.91,595.91 465.56,595.93 456.22,595.96 446.87,595.99 437.53,596.01 428.19,596.04 418.84,596.06 409.5,596.09 400.15,596.11 390.81,596.14 381.47,596.16 372.12,596.19 362.78,596.21 353.43,596.24 344.09,596.26 334.75,596.29 325.4,596.31 316.06,596.34 306.71,596.36 297.37,596.39 288.03,596.42 278.68,596.44 269.34,596.47 259.99,596.49 250.65,596.52 241.31,596.54 231.96,596.57 222.62,596.59 213.27,596.62 203.93,596.64 194.58,596.67 185.24,596.69 175.9,596.72 166.55,596.74 157.21,596.77 147.86,596.8 138.52,596.82 129.18,596.85 119.83,596.87 110.49,596.9 101.14,596.92 91.8,596.95"/>
<polygon fill="#3cffba" stroke="#3cffba" stroke-width="0.6" points="91.8,495.05 101.14,495.1 110.49,495.14 119.83,495.18 129.18,495.23 138.52,495.28 147.86,495.33 157.21,495.38 166.55,495.44 175.9,495.49 185.24,495.55 194.58,495.61 203.93,495.67 213.27,495.73 222.62,495.79 231.96,495.85 241.31,495.92 250.65,495.99 259.99,496.05 269.34,496.12 278.68,496.19 288.03,496.26 297.37,496.33 306.71,496.41 316.06,496.48 325.4,496.56 334.75,496.63 344.09,496.71 353.43,496.79 362.78,496.86 372.12,496.94 381.47,497.02 390.81,497.11 400.15,497.19 409.5,497.28 418.84,497.37 428.19,497.46 437.53,497.55 446.87,497.65 456.22,497.75 465.56,497.84 474.91,497.95 484.25,498.05 493.59,498.15 502.94,498.26 512.28,498.37 521.63,498.48 530.97,498.59 540.32,498.7 549.66,498.81 559,498.93 568.35,499.05 577.69,499.17 587.04,499.29 596.38,499.41 605.72,499.53 615.07,499.65 624.41,499.78 633.76,499.9 643.1,500.03 643.1,582.87 633.76,583 624.41,583.12 615.07,583.25 605.72,583.37 596.38,583.49 587.04,583.61 577.69,583.73 568.35,583.85 559,583.97 549.66,584.09 540.32,584.2 530.97,584.31 521.63,584.42 512.28,584.53 502.94,584.64 493.59,584.75 484.25,584.85 474.91,584.95 465.56,585.06 456.22,585.15 446.87,585.25 437.53,585.35 428.19,585.44 418.84,585.53 409.5,585.62 400.15,585.71 390.81,585.79 381.47,585.88 372.12,585.96 362.78,586.04 353.43,586.11 344.09,586.19 334.75,586.27 325.4,586.34 316.06,586.42 306.71,586.49 297.37,586.57 288.03,586.64 278.68,586.71 269.34,586.78 259.99,586.85 250.65,586.91 241.31,586.98 231.96,587.05 222.62,587.11 213.27,587.17 203.93,587.23 194.58,587.29 185.24,587.35 175.9,587.41 166.55,587.46 157.21,587.52 147.86,587.57 138.52,587.62 129.18,587.67 119.83,587.72 110.49,587.76 101.14,587.8 91.8,587.85"/>
<polygon fill="#66ff90" stroke="#66ff90" stroke-width="0.6" points="91.8,505.01 101.14,505.07 110.49,505.15 119.83,505.22 129.18,505.3 138.52,505.38 147.86,505.47 157.21,505.56 166.55,505.65 175.9,505.74 185.24,505.84 194.58,505.95 203.93,506.05 213.27,506.16 222.62,506.27 231.96,506.38 241.31,506.5 250.65,506.62 259.99,506.74 269.34,506.86 278.68,506.99 288.03,507.12 297.37,507.25 306.71,507.38 316.06,507.51 325.4,507.65 334.75,507.79 344.09,507.92 353.43,508.06 362.78,508.21 372.12,508.35 381.47,508.5 390.81,508.65 400.15,508.81 409.5,508.97 418.84,509.14 428.19,509.31 437.53,509.48 446.87,509.66 456.22,509.85 465.56,510.04 474.91,510.23 484.25,510.42 493.59,510.62 502.94,510.83 512.28,511.03 521.63,511.24 530.97,511.46 540.32,511.67 549.66,511.89 559,512.12 568.35,512.34 577.69,512.57 587.04,512.8 596.38,513.04 605.72,513.28 615.07,513.52 624.41,513.76 633.76,514 643.1,514.25 643.1,568.65 633.76,568.9 624.41,569.14 615.07,569.38 605.72,569.62 596.38,569.86 587.04,570.1 577.69,570.33 568.35,570.56 559,570.78 549.66,571.01 540.32,571.23 530.97,571.44 521.63,571.66 512.28,571.87 502.94,572.07 493.59,572.28 484.25,572.48 474.91,572.67 465.56,572.86 456.22,573.05 446.87,573.24 437.53,573.42 428.19,573.59 418.84,573.76 409.5,573.93 400.15,574.09 390.81,574.25 381.47,574.4 372.12,574.55 362.78,574.69 353.43,574.84 344.09,574.98 334.75,575.11 325.4,575.25 316.06,575.39 306.71,575.52 297.37,575.65 288.03,575.78 278.68,575.91 269.34,576.04 259.99,576.16 250.65,576.28 241.31,576.4 231.96,576.52 222.62,576.63 213.27,576.74 203.93,576.85 194.58,576.95 185.24,577.06 175.9,577.16 166.55,577.25 157.21,577.34 147.86,577.43 138.52,577.52 129.18,577.6 119.83,577.68 110.49,577.75 101.14,577.83 91.8,577.89"/>
<polygon fill="#90ff66" stroke="#90ff66" stroke-width="0.6" points="91.8,517.24 101.14,517.24 110.49,517.25 119.83,517.28 129.18,517.31 138.52,517.34 147.86,517.39 157.21,517.44 166.55,517.5 175.9,517.57 185.24,517.64 194.58,517.72 203.93,517.8 213.27,517.9 222.62,517.99 231.96,518.09 241.31,518.2 250.65,518.31 259.99,518.42 269.34,518.54 278.68,518.66 288.03,518.79 297.37,518.91 306.71,519.04 316.06,519.18 325.4,519.31 334.75,519.45 344.09,519.59 353.43,519.73 362.78,519.87 372.12,520.01 381.47,520.18 390.81,520.36 400.15,520.56 409.5,520.78 418.84,521.01 428.19,521.26 437.53,521.52 446.87,521.79 456.22,522.07 465.56,522.36 474.91,522.66 484.25,522.95 493.59,523.26 502.94,523.56 512.28,523.87 521.63,524.19 530.97,524.52 540.32,524.86 549.66,525.22 559,525.59 568.35,525.96 577.69,526.35 587.04,526.75 596.38,527.16 605.72,527.57 615.07,528 624.41,528.43 633.76,528.87 643.1,529.32 643.1,553.58 633.76,554.03 624.41,554.47 615.07,554.9 605.72,555.33 596.38,555.74 587.04,556.15 577.69,556.55 568.35,556.94 559,557.31 549.66,557.68 540.32,558.04 530.97,558.38 521.63,558.71 512.28,559.03 502.94,559.34 493.59,559.64 484.25,559.95 474.91,560.24 465.56,560.54 456.22,560.83 446.87,561.11 437.53,561.38 428.19,561.64 418.84,561.89 409.5,562.12 400.15,562.34 390.81,562.54 381.47,562.72 372.12,562.89 362.78,563.03 353.43,563.17 344.09,563.31 334.75,563.45 325.4,563.59 316.06,563.72 306.71,563.86 297.37,563.99 288.03,564.11 278.68,564.24 269.34,564.36 259.99,564.48 250.65,564.59 241.31,564.7 231.96,564.81 222.62,564.91 213.27,565 203.93,565.1 194.58,565.18 185.24,565.26 175.9,565.33 166.55,565.4 157.21,565.46 147.86,565.51 138.52,565.56 129.18,565.59 119.83,565.62 110.49,565.65 101.14,565.66 91.8,565.66"/>
<path d="M91.8,470.24 L105.94,470.31 L120.07,470.37 L134.21,470.43 L148.34,470.49 L162.48,470.53 L176.62,470.58 L190.75,470.62 L204.89,470.65 L219.02,470.68 L233.16,470.71 L247.29,470.73 L261.43,470.75 L275.57,470.77 L289.7,470.78 L303.84,470.79 L317.97,470.8 L332.11,470.8 L346.25,470.81 L360.38,470.81 L374.52,470.81 L388.65,470.8 L402.79,470.79 L416.93,470.76 L431.06,470.74 L445.2,470.7 L459.33,470.66 L473.47,470.61 L487.61,470.56 L501.74,470.5 L515.88,470.44 L530.01,470.37 L544.15,470.3 L558.28,470.22 L572.42,470.14 L586.56,470.05 L600.69,469.96 L614.83,469.87 L628.96,469.77 L643.1,469.67" fill="none" stroke="#fff" stroke-width="4.8" stroke-dasharray="17.9 7.8"/>
<path d="M91.8,612.66 L105.94,612.59 L120.07,612.53 L134.21,612.47 L148.34,612.41 L162.48,612.37 L176.62,612.32 L190.75,612.28 L204.89,612.25 L219.02,612.22 L233.16,612.19 L247.29,612.17 L261.43,612.15 L275.57,612.13 L289.7,612.12 L303.84,612.11 L317.97,612.1 L332.11,612.1 L346.25,612.09 L360.38,612.09 L374.52,612.09 L388.65,612.1 L402.79,612.11 L416.93,612.14 L431.06,612.16 L445.2,612.2 L459.33,612.24 L473.47,612.29 L487.61,612.34 L501.74,612.4 L515.88,612.46 L530.01,612.53 L544.15,612.6 L558.28,612.68 L572.42,612.76 L586.56,612.85 L600.69,612.94 L614.83,613.03 L628.96,613.13 L643.1,613.23" fill="none" stroke="#fff" stroke-width="4.8" stroke-dasharray="17.9 7.8"/>
</g>
<rect x="91.8" y="371" width="551.3" height="335.4" fill="none" stroke="#000" stroke-width="1.85"/>
<line x1="82.88" y1="398.5" x2="91.8" y2="398.5" stroke="#000" stroke-width="1.85"/>
<text x="75.8" y="411.8" text-anchor="end" font-size="38.5">1</text>
<line x1="82.88" y1="540.7" x2="91.8" y2="540.7" stroke="#000" stroke-width="1.85"/>
<text x="75.8" y="554" text-anchor="end" font-size="38.5">0</text>
<text class="w"><tspan x="111.59" y="404.8" font-size="43.5">(b) GVD on</tspan></text>
<text class="w"><tspan x="432.74" y="404.8" font-size="44" font-style="italic">P</tspan><tspan x="458.62" y="410.8" font-size="31">0</tspan><tspan x="479.34" y="407.2" font-size="43" font-family="'DejaVu Sans', sans-serif">=</tspan><tspan x="517.8" y="404.8" font-size="44">15</tspan><tspan x="562.64" y="404.8" font-size="44" font-style="italic">P</tspan><tspan x="588.35" y="410.8" font-size="31" font-style="italic">cr</tspan></text>
</g>
<g id="panel-c">
<clipPath id="clip-c"><rect x="91.8" y="723" width="551.3" height="334.9"/></clipPath>
<g clip-path="url(#clip-c)">
<rect x="91.8" y="723" width="551.3" height="334.9" fill="#0000ad"/>
<polygon fill="#0000ff" stroke="#0000ff" stroke-width="0.6" points="91.8,778.1 101.14,778.19 110.49,778.3 119.83,778.42 129.18,778.56 138.52,778.71 147.86,778.87 157.21,779.03 166.55,779.21 175.9,779.4 185.24,779.59 194.58,779.81 203.93,780.07 213.27,780.34 222.62,780.63 231.96,780.93 241.31,781.21 250.65,781.48 259.99,781.73 269.34,781.95 278.68,782.17 288.03,782.38 297.37,782.58 306.71,782.79 316.06,783 325.4,783.22 334.75,783.46 344.09,783.71 353.43,783.97 362.78,784.23 372.12,784.5 381.47,784.77 390.81,785.04 400.15,785.3 409.5,785.55 418.84,785.78 428.19,786.01 437.53,786.24 446.87,786.46 456.22,786.7 465.56,786.94 474.91,787.2 484.25,787.48 493.59,787.8 502.94,788.16 512.28,788.52 521.63,788.87 530.97,789.2 540.32,789.49 549.66,789.74 559,789.99 568.35,790.24 577.69,790.47 587.04,790.69 596.38,790.91 605.72,791.11 615.07,791.29 624.41,791.46 633.76,791.62 643.1,791.75 643.1,994.25 633.76,994.38 624.41,994.54 615.07,994.71 605.72,994.89 596.38,995.09 587.04,995.31 577.69,995.53 568.35,995.76 559,996.01 549.66,996.26 540.32,996.51 530.97,996.8 521.63,997.13 512.28,997.48 502.94,997.84 493.59,998.2 484.25,998.52 474.91,998.8 465.56,999.06 456.22,999.3 446.87,999.54 437.53,999.76 428.19,999.99 418.84,1000.22 409.5,1000.45 400.15,1000.7 390.81,1000.96 381.47,1001.23 372.12,1001.5 362.78,1001.77 353.43,1002.03 344.09,1002.29 334.75,1002.54 325.4,1002.78 316.06,1003 306.71,1003.21 297.37,1003.42 288.03,1003.62 278.68,1003.83 269.34,1004.05 259.99,1004.27 250.65,1004.52 241.31,1004.79 231.96,1005.07 222.62,1005.37 213.27,1005.66 203.93,1005.93 194.58,1006.19 185.24,1006.41 175.9,1006.6 166.55,1006.79 157.21,1006.97 147.86,1007.13 138.52,1007.29 129.18,1007.44 119.83,1007.58 110.49,1007.7 101.14,1007.81 91.8,1007.9"/>
<polygon fill="#004cff" stroke="#004cff" stroke-width="0.6" points="91.8,800.14 101.14,800.27 110.49,800.41 119.83,800.57 129.18,800.74 138.52,800.94 147.86,801.14 157.21,801.36 166.55,801.59 175.9,801.83 185.24,802.07 194.58,802.37 203.93,802.7 213.27,803.07 222.62,803.44 231.96,803.82 241.31,804.17 250.65,804.5 259.99,804.77 269.34,805.01 278.68,805.23 288.03,805.44 297.37,805.64 306.71,805.84 316.06,806.04 325.4,806.26 334.75,806.5 344.09,806.75 353.43,807.03 362.78,807.31 372.12,807.59 381.47,807.88 390.81,808.15 400.15,808.41 409.5,808.65 418.84,808.88 428.19,809.1 437.53,809.31 446.87,809.52 456.22,809.72 465.56,809.93 474.91,810.13 484.25,810.34 493.59,810.56 502.94,810.78 512.28,811.01 521.63,811.21 530.97,811.39 540.32,811.52 549.66,811.64 559,811.75 568.35,811.86 577.69,811.97 587.04,812.06 596.38,812.15 605.72,812.22 615.07,812.29 624.41,812.33 633.76,812.36 643.1,812.37 643.1,973.63 633.76,973.64 624.41,973.67 615.07,973.71 605.72,973.78 596.38,973.85 587.04,973.94 577.69,974.03 568.35,974.14 559,974.25 549.66,974.36 540.32,974.48 530.97,974.61 521.63,974.79 512.28,974.99 502.94,975.22 493.59,975.44 484.25,975.66 474.91,975.87 465.56,976.07 456.22,976.28 446.87,976.48 437.53,976.69 428.19,976.9 418.84,977.12 409.5,977.35 400.15,977.59 390.81,977.85 381.47,978.12 372.12,978.41 362.78,978.69 353.43,978.97 344.09,979.25 334.75,979.5 325.4,979.74 316.06,979.96 306.71,980.16 297.37,980.36 288.03,980.56 278.68,980.77 269.34,980.99 259.99,981.23 250.65,981.5 241.31,981.83 231.96,982.18 222.62,982.56 213.27,982.93 203.93,983.3 194.58,983.63 185.24,983.93 175.9,984.17 166.55,984.41 157.21,984.64 147.86,984.86 138.52,985.06 129.18,985.26 119.83,985.43 110.49,985.59 101.14,985.73 91.8,985.86"/>
<polygon fill="#009cff" stroke="#009cff" stroke-width="0.6" points="91.8,819.2 101.14,819.12 110.49,819.06 119.83,819.01 129.18,818.97 138.52,818.95 147.86,818.93 157.21,818.92 166.55,818.92 175.9,818.91 185.24,818.92 194.58,818.99 203.93,819.13 213.27,819.32 222.62,819.54 231.96,819.77 241.31,820 250.65,820.21 259.99,820.38 269.34,820.54 278.68,820.68 288.03,820.82 297.37,820.96 306.71,821.1 316.06,821.24 325.4,821.39 334.75,821.53 344.09,821.68 353.43,821.83 362.78,821.98 372.12,822.13 381.47,822.29 390.81,822.44 400.15,822.59 409.5,822.74 418.84,822.91 428.19,823.08 437.53,823.25 446.87,823.42 456.22,823.58 465.56,823.72 474.91,823.84 484.25,823.93 493.59,824.03 502.94,824.12 512.28,824.2 521.63,824.26 530.97,824.3 540.32,824.32 549.66,824.31 559,824.31 568.35,824.29 577.69,824.26 587.04,824.23 596.38,824.18 605.72,824.12 615.07,824.05 624.41,823.97 633.76,823.87 643.1,823.75 643.1,962.25 633.76,962.13 624.41,962.03 615.07,961.95 605.72,961.88 596.38,961.82 587.04,961.77 577.69,961.74 568.35,961.71 559,961.69 549.66,961.69 540.32,961.68 530.97,961.7 521.63,961.74 512.28,961.8 502.94,961.88 493.59,961.97 484.25,962.07 474.91,962.16 465.56,962.28 456.22,962.42 446.87,962.58 437.53,962.75 428.19,962.92 418.84,963.09 409.5,963.26 400.15,963.41 390.81,963.56 381.47,963.71 372.12,963.87 362.78,964.02 353.43,964.17 344.09,964.32 334.75,964.47 325.4,964.61 316.06,964.76 306.71,964.9 297.37,965.04 288.03,965.18 278.68,965.32 269.34,965.46 259.99,965.62 250.65,965.79 241.31,966 231.96,966.23 222.62,966.46 213.27,966.68 203.93,966.87 194.58,967.01 185.24,967.08 175.9,967.09 166.55,967.08 157.21,967.08 147.86,967.07 138.52,967.05 129.18,967.03 119.83,966.99 110.49,966.94 101.14,966.88 91.8,966.8"/>
<polygon fill="#09f0ee" stroke="#09f0ee" stroke-width="0.6" points="91.8,831.29 101.14,831.31 110.49,831.34 119.83,831.38 129.18,831.43 138.52,831.49 147.86,831.56 157.21,831.64 166.55,831.72 175.9,831.8 185.24,831.88 194.58,832.01 203.93,832.17 213.27,832.35 222.62,832.53 231.96,832.7 241.31,832.85 250.65,832.95 259.99,833 269.34,833.03 278.68,833.05 288.03,833.07 297.37,833.08 306.71,833.09 316.06,833.11 325.4,833.12 334.75,833.14 344.09,833.16 353.43,833.18 362.78,833.19 372.12,833.21 381.47,833.23 390.81,833.25 400.15,833.27 409.5,833.29 418.84,833.31 428.19,833.33 437.53,833.35 446.87,833.38 456.22,833.39 465.56,833.41 474.91,833.42 484.25,833.42 493.59,833.42 502.94,833.42 512.28,833.42 521.63,833.42 530.97,833.42 540.32,833.42 549.66,833.41 559,833.39 568.35,833.36 577.69,833.32 587.04,833.28 596.38,833.22 605.72,833.16 615.07,833.09 624.41,833.01 633.76,832.93 643.1,832.85 643.1,953.15 633.76,953.07 624.41,952.99 615.07,952.91 605.72,952.84 596.38,952.78 587.04,952.72 577.69,952.68 568.35,952.64 559,952.61 549.66,952.59 540.32,952.58 530.97,952.58 521.63,952.58 512.28,952.58 502.94,952.58 493.59,952.58 484.25,952.58 474.91,952.58 465.56,952.59 456.22,952.61 446.87,952.62 437.53,952.65 428.19,952.67 418.84,952.69 409.5,952.71 400.15,952.73 390.81,952.75 381.47,952.77 372.12,952.79 362.78,952.81 353.43,952.82 344.09,952.84 334.75,952.86 325.4,952.88 316.06,952.89 306.71,952.91 297.37,952.92 288.03,952.93 278.68,952.95 269.34,952.97 259.99,953 250.65,953.05 241.31,953.15 231.96,953.3 222.62,953.47 213.27,953.65 203.93,953.83 194.58,953.99 185.24,954.12 175.9,954.2 166.55,954.28 157.21,954.36 147.86,954.44 138.52,954.51 129.18,954.57 119.83,954.62 110.49,954.66 101.14,954.69 91.8,954.71"/>
<polygon fill="#49ffad" stroke="#49ffad" stroke-width="0.6" points="91.8,845.79 101.14,845.66 110.49,845.53 119.83,845.4 129.18,845.27 138.52,845.14 147.86,845.01 157.21,844.87 166.55,844.74 175.9,844.6 185.24,844.47 194.58,844.32 203.93,844.18 213.27,844.03 222.62,843.88 231.96,843.73 241.31,843.59 250.65,843.46 259.99,843.34 269.34,843.22 278.68,843.12 288.03,843.02 297.37,842.92 306.71,842.82 316.06,842.71 325.4,842.59 334.75,842.47 344.09,842.31 353.43,842.14 362.78,841.95 372.12,841.77 381.47,841.59 390.81,841.43 400.15,841.29 409.5,841.19 418.84,841.1 428.19,841.01 437.53,840.92 446.87,840.85 456.22,840.78 465.56,840.73 474.91,840.69 484.25,840.66 493.59,840.63 502.94,840.6 512.28,840.58 521.63,840.55 530.97,840.53 540.32,840.51 549.66,840.49 559,840.47 568.35,840.45 577.69,840.44 587.04,840.42 596.38,840.41 605.72,840.4 615.07,840.4 624.41,840.39 633.76,840.39 643.1,840.39 643.1,945.61 633.76,945.61 624.41,945.61 615.07,945.6 605.72,945.6 596.38,945.59 587.04,945.58 577.69,945.56 568.35,945.55 559,945.53 549.66,945.51 540.32,945.49 530.97,945.47 521.63,945.45 512.28,945.42 502.94,945.4 493.59,945.37 484.25,945.34 474.91,945.31 465.56,945.27 456.22,945.22 446.87,945.15 437.53,945.08 428.19,944.99 418.84,944.9 409.5,944.81 400.15,944.71 390.81,944.57 381.47,944.41 372.12,944.23 362.78,944.05 353.43,943.86 344.09,943.69 334.75,943.53 325.4,943.41 316.06,943.29 306.71,943.18 297.37,943.08 288.03,942.98 278.68,942.88 269.34,942.78 259.99,942.66 250.65,942.54 241.31,942.41 231.96,942.27 222.62,942.12 213.27,941.97 203.93,941.82 194.58,941.68 185.24,941.53 175.9,941.4 166.55,941.26 157.21,941.13 147.86,940.99 138.52,940.86 129.18,940.73 119.83,940.6 110.49,940.47 101.14,940.34 91.8,940.21"/>
<polygon fill="#8dff6a" stroke="#8dff6a" stroke-width="0.6" points="91.8,863.99 101.14,863.38 110.49,862.78 119.83,862.17 129.18,861.57 138.52,860.97 147.86,860.37 157.21,859.76 166.55,859.16 175.9,858.57 185.24,857.97 194.58,857.34 203.93,856.69 213.27,856.04 222.62,855.39 231.96,854.78 241.31,854.21 250.65,853.71 259.99,853.28 269.34,852.9 278.68,852.57 288.03,852.27 297.37,851.98 306.71,851.7 316.06,851.41 325.4,851.11 334.75,850.77 344.09,850.41 353.43,850.01 362.78,849.61 372.12,849.22 381.47,848.84 390.81,848.49 400.15,848.2 409.5,847.95 418.84,847.72 428.19,847.51 437.53,847.31 446.87,847.13 456.22,846.96 465.56,846.82 474.91,846.7 484.25,846.6 493.59,846.52 502.94,846.44 512.28,846.38 521.63,846.32 530.97,846.27 540.32,846.21 549.66,846.17 559,846.12 568.35,846.07 577.69,846.03 587.04,845.98 596.38,845.94 605.72,845.91 615.07,845.87 624.41,845.84 633.76,845.81 643.1,845.79 643.1,940.21 633.76,940.19 624.41,940.16 615.07,940.13 605.72,940.09 596.38,940.06 587.04,940.02 577.69,939.97 568.35,939.93 559,939.88 549.66,939.83 540.32,939.79 530.97,939.73 521.63,939.68 512.28,939.62 502.94,939.56 493.59,939.48 484.25,939.4 474.91,939.3 465.56,939.18 456.22,939.04 446.87,938.87 437.53,938.69 428.19,938.49 418.84,938.28 409.5,938.05 400.15,937.8 390.81,937.51 381.47,937.16 372.12,936.78 362.78,936.39 353.43,935.99 344.09,935.59 334.75,935.23 325.4,934.89 316.06,934.59 306.71,934.3 297.37,934.02 288.03,933.73 278.68,933.43 269.34,933.1 259.99,932.72 250.65,932.29 241.31,931.79 231.96,931.22 222.62,930.61 213.27,929.96 203.93,929.31 194.58,928.66 185.24,928.03 175.9,927.43 166.55,926.84 157.21,926.24 147.86,925.63 138.52,925.03 129.18,924.43 119.83,923.83 110.49,923.22 101.14,922.62 91.8,922.01"/>
<polygon fill="#ceff29" stroke="#ceff29" stroke-width="0.6" points="143.62,893 143.77,892.03 144.2,891.05 144.91,890.06 145.92,889.07 147.21,888.08 148.79,887.09 150.65,886.09 152.81,885.08 155.24,884.07 157.97,883.06 160.98,882.05 164.28,881.03 167.87,880.01 171.75,878.98 175.91,877.95 180.35,876.92 185.09,875.87 190.11,874.75 195.42,873.58 201.02,872.38 206.9,871.16 213.07,869.96 219.53,868.79 226.27,867.67 233.3,866.62 240.62,865.66 248.22,864.82 256.12,864.12 264.29,863.55 272.76,863.08 281.51,862.67 290.55,862.29 299.88,861.93 309.49,861.54 319.39,861.1 329.58,860.58 340.06,859.9 350.82,859.02 361.87,858.04 373.2,857.03 384.82,856.09 396.73,855.29 408.93,854.73 421.41,854.24 434.18,853.8 447.24,853.42 460.58,853.1 474.22,852.88 488.13,852.75 502.34,852.66 516.83,852.59 531.61,852.52 546.68,852.44 562.03,852.35 577.67,852.26 593.6,852.17 609.81,852.09 626.31,852 643.1,851.9 643.1,934.1 626.31,934 609.81,933.91 593.6,933.83 577.67,933.74 562.03,933.65 546.68,933.56 531.61,933.48 516.83,933.41 502.34,933.34 488.13,933.25 474.22,933.12 460.58,932.9 447.24,932.58 434.18,932.2 421.41,931.76 408.93,931.27 396.73,930.71 384.82,929.91 373.2,928.97 361.87,927.96 350.82,926.98 340.06,926.1 329.58,925.42 319.39,924.9 309.49,924.46 299.88,924.07 290.55,923.71 281.51,923.33 272.76,922.92 264.29,922.45 256.12,921.88 248.22,921.18 240.62,920.34 233.3,919.38 226.27,918.33 219.53,917.21 213.07,916.04 206.9,914.84 201.02,913.62 195.42,912.42 190.11,911.25 185.09,910.13 180.35,909.08 175.91,908.05 171.75,907.02 167.87,905.99 164.28,904.97 160.98,903.95 157.97,902.94 155.24,901.93 152.81,900.92 150.65,899.91 148.79,898.91 147.21,897.92 145.92,896.93 144.91,895.94 144.2,894.95 143.77,893.97 143.62,893"/>
<polygon fill="#ffd700" stroke="#ffd700" stroke-width="0.6" points="232.22,893 232.33,892.06 232.69,891.14 233.28,890.23 234.1,889.32 235.17,888.43 236.47,887.56 238,886.69 239.77,885.84 241.78,885 244.02,884.17 246.5,883.36 249.21,882.56 252.16,881.77 255.35,881 258.77,880.25 262.43,879.52 266.33,878.83 270.46,878.16 274.83,877.5 279.43,876.86 284.27,876.23 289.35,875.6 294.66,874.96 300.2,874.32 305.99,873.66 312.01,872.98 318.26,872.27 324.76,871.54 331.48,870.77 338.45,869.91 345.65,868.95 353.09,867.93 360.76,866.87 368.67,865.83 376.81,864.82 385.19,863.9 393.81,863.09 402.66,862.42 411.75,861.9 421.07,861.41 430.63,860.95 440.43,860.53 450.46,860.16 460.73,859.85 471.24,859.6 481.98,859.41 492.96,859.27 504.17,859.16 515.62,859.07 527.31,858.98 539.23,858.88 551.39,858.77 563.78,858.66 576.41,858.56 589.28,858.45 602.38,858.34 615.72,858.23 629.29,858.13 643.1,858.02 643.1,927.98 629.29,927.87 615.72,927.77 602.38,927.66 589.28,927.55 576.41,927.44 563.78,927.34 551.39,927.23 539.23,927.12 527.31,927.02 515.62,926.93 504.17,926.84 492.96,926.73 481.98,926.59 471.24,926.4 460.73,926.15 450.46,925.84 440.43,925.47 430.63,925.05 421.07,924.59 411.75,924.1 402.66,923.58 393.81,922.91 385.19,922.1 376.81,921.18 368.67,920.17 360.76,919.13 353.09,918.07 345.65,917.05 338.45,916.09 331.48,915.23 324.76,914.46 318.26,913.73 312.01,913.02 305.99,912.34 300.2,911.68 294.66,911.04 289.35,910.4 284.27,909.77 279.43,909.14 274.83,908.5 270.46,907.84 266.33,907.17 262.43,906.48 258.77,905.75 255.35,905 252.16,904.23 249.21,903.44 246.5,902.64 244.02,901.83 241.78,901 239.77,900.16 238,899.31 236.47,898.44 235.17,897.57 234.1,896.68 233.28,895.77 232.69,894.86 232.33,893.94 232.22,893"/>
<polygon fill="#ff8d00" stroke="#ff8d00" stroke-width="0.6" points="299.09,893 299.19,892.24 299.48,891.48 299.98,890.73 300.67,889.98 301.56,889.23 302.65,888.48 303.93,887.73 305.41,886.99 307.09,886.25 308.97,885.51 311.05,884.78 313.32,884.04 315.79,883.31 318.46,882.59 321.32,881.86 324.39,881.14 327.65,880.41 331.11,879.7 334.76,878.96 338.62,878.21 342.67,877.44 346.92,876.67 351.37,875.89 356.01,875.11 360.85,874.35 365.89,873.59 371.13,872.86 376.57,872.16 382.2,871.49 388.03,870.86 394.06,870.28 400.29,869.75 406.71,869.27 413.33,868.82 420.15,868.39 427.17,867.97 434.38,867.58 441.79,867.21 449.4,866.87 457.21,866.55 465.21,866.27 473.42,866.01 481.82,865.79 490.41,865.6 499.21,865.43 508.2,865.27 517.39,865.13 526.78,864.99 536.37,864.86 546.15,864.74 556.13,864.61 566.31,864.47 576.69,864.33 587.26,864.19 598.04,864.05 609.01,863.91 620.17,863.77 631.54,863.63 643.1,863.49 643.1,922.51 631.54,922.37 620.17,922.23 609.01,922.09 598.04,921.95 587.26,921.81 576.69,921.67 566.31,921.53 556.13,921.39 546.15,921.26 536.37,921.14 526.78,921.01 517.39,920.87 508.2,920.73 499.21,920.57 490.41,920.4 481.82,920.21 473.42,919.99 465.21,919.73 457.21,919.45 449.4,919.13 441.79,918.79 434.38,918.42 427.17,918.03 420.15,917.61 413.33,917.18 406.71,916.73 400.29,916.25 394.06,915.72 388.03,915.14 382.2,914.51 376.57,913.84 371.13,913.14 365.89,912.41 360.85,911.65 356.01,910.89 351.37,910.11 346.92,909.33 342.67,908.56 338.62,907.79 334.76,907.04 331.11,906.3 327.65,905.59 324.39,904.86 321.32,904.14 318.46,903.41 315.79,902.69 313.32,901.96 311.05,901.22 308.97,900.49 307.09,899.75 305.41,899.01 303.93,898.27 302.65,897.52 301.56,896.77 300.67,896.02 299.98,895.27 299.48,894.52 299.19,893.76 299.09,893"/>
<polygon fill="#ff3f00" stroke="#ff3f00" stroke-width="0.6" points="362.49,893 362.57,892.29 362.81,891.59 363.21,890.9 363.78,890.22 364.5,889.55 365.39,888.89 366.44,888.24 367.65,887.6 369.02,886.98 370.55,886.36 372.24,885.76 374.1,885.16 376.11,884.58 378.29,884.01 380.63,883.45 383.13,882.9 385.79,882.36 388.61,881.83 391.59,881.32 394.73,880.82 398.04,880.33 401.5,879.85 405.13,879.38 408.92,878.92 412.87,878.47 416.98,878.03 421.25,877.6 425.69,877.18 430.28,876.76 435.04,876.36 439.96,875.97 445.04,875.59 450.28,875.22 455.68,874.86 461.24,874.52 466.96,874.19 472.85,873.87 478.89,873.57 485.1,873.28 491.47,873.01 498,872.74 504.69,872.49 511.54,872.25 518.55,872.02 525.73,871.79 533.06,871.57 540.56,871.35 548.22,871.13 556.04,870.91 564.02,870.69 572.16,870.46 580.46,870.23 588.93,870.01 597.55,869.78 606.34,869.56 615.29,869.34 624.4,869.12 633.67,868.9 643.1,868.68 643.1,917.32 633.67,917.1 624.4,916.88 615.29,916.66 606.34,916.44 597.55,916.22 588.93,915.99 580.46,915.77 572.16,915.54 564.02,915.31 556.04,915.09 548.22,914.87 540.56,914.65 533.06,914.43 525.73,914.21 518.55,913.98 511.54,913.75 504.69,913.51 498,913.26 491.47,912.99 485.1,912.72 478.89,912.43 472.85,912.13 466.96,911.81 461.24,911.48 455.68,911.14 450.28,910.78 445.04,910.41 439.96,910.03 435.04,909.64 430.28,909.24 425.69,908.82 421.25,908.4 416.98,907.97 412.87,907.53 408.92,907.08 405.13,906.62 401.5,906.15 398.04,905.67 394.73,905.18 391.59,904.68 388.61,904.17 385.79,903.64 383.13,903.1 380.63,902.55 378.29,901.99 376.11,901.42 374.1,900.84 372.24,900.24 370.55,899.64 369.02,899.02 367.65,898.4 366.44,897.76 365.39,897.11 364.5,896.45 363.78,895.78 363.21,895.1 362.81,894.41 362.57,893.71 362.49,893"/>
<polygon fill="#da0000" stroke="#da0000" stroke-width="0.6" points="432.23,893 432.29,892.79 432.47,892.57 432.77,892.34 433.2,892.11 433.74,891.86 434.41,891.6 435.2,891.33 436.1,891.06 437.13,890.77 438.29,890.48 439.56,890.18 440.95,889.87 442.47,889.56 444.1,889.24 445.86,888.91 447.74,888.57 449.73,888.23 451.86,887.89 454.1,887.53 456.46,887.18 458.94,886.81 461.55,886.45 464.27,886.07 467.12,885.7 470.09,885.32 473.18,884.94 476.39,884.55 479.72,884.16 483.17,883.75 486.75,883.29 490.44,882.8 494.26,882.29 498.2,881.77 502.26,881.24 506.44,880.73 510.74,880.24 515.16,879.78 519.7,879.36 524.37,879 529.15,878.67 534.06,878.35 539.09,878.05 544.24,877.76 549.51,877.49 554.9,877.23 560.41,876.99 566.04,876.76 571.8,876.54 577.68,876.33 583.67,876.13 589.79,875.94 596.03,875.75 602.39,875.57 608.87,875.4 615.48,875.24 622.2,875.09 629.05,874.95 636.01,874.83 643.1,874.71 643.1,911.29 636.01,911.17 629.05,911.05 622.2,910.91 615.48,910.76 608.87,910.6 602.39,910.43 596.03,910.25 589.79,910.06 583.67,909.87 577.68,909.67 571.8,909.46 566.04,909.24 560.41,909.01 554.9,908.77 549.51,908.51 544.24,908.24 539.09,907.95 534.06,907.65 529.15,907.33 524.37,907 519.7,906.64 515.16,906.22 510.74,905.76 506.44,905.27 502.26,904.76 498.2,904.23 494.26,903.71 490.44,903.2 486.75,902.71 483.17,902.25 479.72,901.84 476.39,901.45 473.18,901.06 470.09,900.68 467.12,900.3 464.27,899.93 461.55,899.55 458.94,899.19 456.46,898.82 454.1,898.47 451.86,898.11 449.73,897.77 447.74,897.43 445.86,897.09 444.1,896.76 442.47,896.44 440.95,896.13 439.56,895.82 438.29,895.52 437.13,895.23 436.1,894.94 435.2,894.67 434.41,894.4 433.74,894.14 433.2,893.89 432.77,893.66 432.47,893.43 432.29,893.21 432.23,893"/>
<polygon fill="#800000" stroke="#800000" stroke-width="0.6" points="529.53,893 529.56,892.85 529.66,892.69 529.83,892.54 530.05,892.38 530.35,892.21 530.71,892.05 531.13,891.88 531.62,891.71 532.17,891.54 532.79,891.36 533.48,891.19 534.23,891.01 535.05,890.82 535.93,890.64 536.87,890.46 537.88,890.27 538.96,890.08 540.1,889.89 541.31,889.69 542.58,889.5 543.92,889.3 545.32,889.1 546.79,888.9 548.32,888.7 549.92,888.5 551.59,888.29 553.32,888.09 555.11,887.88 556.97,887.67 558.89,887.46 560.88,887.24 562.94,887.01 565.06,886.77 567.25,886.52 569.5,886.27 571.81,886.02 574.2,885.77 576.64,885.52 579.15,885.28 581.73,885.04 584.37,884.8 587.08,884.58 589.86,884.36 592.69,884.16 595.6,883.97 598.57,883.77 601.6,883.59 604.7,883.4 607.86,883.22 611.09,883.04 614.39,882.87 617.75,882.69 621.18,882.53 624.67,882.37 628.22,882.21 631.84,882.05 635.53,881.91 639.28,881.76 643.1,881.62 643.1,904.38 639.28,904.24 635.53,904.09 631.84,903.95 628.22,903.79 624.67,903.63 621.18,903.47 617.75,903.31 614.39,903.13 611.09,902.96 607.86,902.78 604.7,902.6 601.6,902.41 598.57,902.23 595.6,902.03 592.69,901.84 589.86,901.64 587.08,901.42 584.37,901.2 581.73,900.96 579.15,900.72 576.64,900.48 574.2,900.23 571.81,899.98 569.5,899.73 567.25,899.48 565.06,899.23 562.94,898.99 560.88,898.76 558.89,898.54 556.97,898.33 555.11,898.12 553.32,897.91 551.59,897.71 549.92,897.5 548.32,897.3 546.79,897.1 545.32,896.9 543.92,896.7 542.58,896.5 541.31,896.31 540.1,896.11 538.96,895.92 537.88,895.73 536.87,895.54 535.93,895.36 535.05,895.18 534.23,894.99 533.48,894.81 532.79,894.64 532.17,894.46 531.62,894.29 531.13,894.12 530.71,893.95 530.35,893.79 530.05,893.62 529.83,893.46 529.66,893.31 529.56,893.15 529.53,893"/>
<path d="M91.8,822.18 L105.94,822.52 L120.07,823.07 L134.21,823.77 L148.34,824.58 L162.48,825.52 L176.62,826.82 L190.75,827.95 L204.89,828.94 L219.02,830.04 L233.16,831.34 L247.29,832.74 L261.43,834.11 L275.57,835.49 L289.7,836.87 L303.84,838.18 L317.97,839.36 L332.11,840.47 L346.25,841.66 L360.38,842.71 L374.52,843.48 L388.65,844.13 L402.79,844.71 L416.93,845.27 L431.06,845.79 L445.2,846.25 L459.33,846.61 L473.47,846.92 L487.61,847.19 L501.74,847.42 L515.88,847.65 L530.01,847.81 L544.15,847.85 L558.28,847.87 L572.42,847.89 L586.56,847.9 L600.69,847.91 L614.83,847.92 L628.96,847.92 L643.1,847.92" fill="none" stroke="#fff" stroke-width="4.8" stroke-dasharray="17.9 7.8"/>
<path d="M91.8,963.82 L105.94,963.48 L120.07,962.93 L134.21,962.23 L148.34,961.42 L162.48,960.48 L176.62,959.18 L190.75,958.05 L204.89,957.06 L219.02,955.96 L233.16,954.66 L247.29,953.26 L261.43,951.89 L275.57,950.51 L289.7,949.13 L303.84,947.82 L317.97,946.64 L332.11,945.53 L346.25,944.34 L360.38,943.29 L374.52,942.52 L388.65,941.87 L402.79,941.29 L416.93,940.73 L431.06,940.21 L445.2,939.75 L459.33,939.39 L473.47,939.08 L487.61,938.81 L501.74,938.58 L515.88,938.35 L530.01,938.19 L544.15,938.15 L558.28,938.13 L572.42,938.11 L586.56,938.1 L600.69,938.09 L614.83,938.08 L628.96,938.08 L643.1,938.08" fill="none" stroke="#fff" stroke-width="4.8" stroke-dasharray="17.9 7.8"/>
</g>
<rect x="91.8" y="723" width="551.3" height="334.9" fill="none" stroke="#000" stroke-width="1.85"/>
<line x1="82.88" y1="750.8" x2="91.8" y2="750.8" stroke="#000" stroke-width="1.85"/>
<text x="75.8" y="764.1" text-anchor="end" font-size="38.5">1</text>
<line x1="82.88" y1="893" x2="91.8" y2="893" stroke="#000" stroke-width="1.85"/>
<text x="75.8" y="906.3" text-anchor="end" font-size="38.5">0</text>
<line x1="82.88" y1="1035.2" x2="91.8" y2="1035.2" stroke="#000" stroke-width="1.85"/>
<text x="75.8" y="1048.5" text-anchor="end" font-size="38.5"><tspan font-size="44.5" dy="1">−</tspan><tspan dy="-1">1</tspan></text>
<text class="w"><tspan x="112.34" y="759.5" font-size="43.5">(c) GVD on</tspan></text>
<text class="w"><tspan x="422.24" y="759.5" font-size="44" font-style="italic">P</tspan><tspan x="448.12" y="765.5" font-size="31">0</tspan><tspan x="468.84" y="761.9" font-size="43" font-family="'DejaVu Sans', sans-serif">=</tspan><tspan x="507.3" y="759.5" font-size="44">200</tspan><tspan x="574.14" y="759.5" font-size="44" font-style="italic">P</tspan><tspan x="599.85" y="765.5" font-size="31" font-style="italic">cr</tspan></text>
</g>
<line x1="91.8" y1="1057.9" x2="91.8" y2="1066.83" stroke="#000" stroke-width="1.85"/>
<text x="91.8" y="1101.9" text-anchor="middle" font-size="38.5">0</text>
<line x1="367.45" y1="1057.9" x2="367.45" y2="1066.83" stroke="#000" stroke-width="1.85"/>
<text x="367.45" y="1101.9" text-anchor="middle" font-size="38.5">5</text>
<line x1="643.1" y1="1057.9" x2="643.1" y2="1066.83" stroke="#000" stroke-width="1.85"/>
<text x="643.1" y="1101.9" text-anchor="middle" font-size="38.5">10</text>
<text><tspan x="296.8" y="1153.1" font-size="48.5">z (mm)</tspan></text>
<text transform="translate(35.4,577.1) rotate(-90)"><tspan x="-0.98" y="0" font-size="49">r</tspan><tspan x="21.3" y="0" font-size="49">/</tspan><tspan x="40.72" y="0" font-size="49">r</tspan><tspan x="57.39" y="6.9" font-size="34.5">0</tspan></text>
<g id="colorbar">
<rect x="658.4" y="981.54" width="24.6" height="80.56" fill="#0000ad"/>
<rect x="658.4" y="901.48" width="24.6" height="80.56" fill="#0000ff"/>
<rect x="658.4" y="821.42" width="24.6" height="80.56" fill="#004cff"/>
<rect x="658.4" y="741.35" width="24.6" height="80.56" fill="#009cff"/>
<rect x="658.4" y="661.29" width="24.6" height="80.56" fill="#09f0ee"/>
<rect x="658.4" y="581.23" width="24.6" height="80.56" fill="#49ffad"/>
<rect x="658.4" y="501.17" width="24.6" height="80.56" fill="#8dff6a"/>
<rect x="658.4" y="421.11" width="24.6" height="80.56" fill="#ceff29"/>
<rect x="658.4" y="341.05" width="24.6" height="80.56" fill="#ffd700"/>
<rect x="658.4" y="260.98" width="24.6" height="80.56" fill="#ff8d00"/>
<rect x="658.4" y="180.92" width="24.6" height="80.56" fill="#ff3f00"/>
<rect x="658.4" y="100.86" width="24.6" height="80.56" fill="#da0000"/>
<rect x="658.4" y="20.8" width="24.6" height="80.56" fill="#800000"/>
<rect x="658.4" y="20.8" width="24.6" height="1040.8" fill="none" stroke="#000" stroke-width="1.85"/>
<line x1="683" y1="1061.6" x2="691.92" y2="1061.6" stroke="#000" stroke-width="1.85"/>
<text x="700.1" y="1078.2" font-size="49">0</text>
<line x1="683" y1="60.83" x2="691.92" y2="60.83" stroke="#000" stroke-width="1.85"/>
<text x="700.1" y="77.43" font-size="49">1</text>
<text transform="translate(705.2,389.3) rotate(90)"><tspan x="-1.25" y="0" font-size="43.5">Fluence (a.u.)</tspan></text>
</g>
<g id="panel-d">
<clipPath id="clip-d"><rect x="931.8" y="19.7" width="648.3" height="356.3"/></clipPath>
<g clip-path="url(#clip-d)">
<circle cx="1000.25" cy="108.41" r="8.45" fill="#d6bcf2"/>
<circle cx="1020.27" cy="108.92" r="8.45" fill="#d6bcf2"/>
<circle cx="1050.3" cy="109.81" r="8.45" fill="#d6bcf2"/>
<circle cx="1150.4" cy="114.59" r="8.45" fill="#d6bcf2"/>
<circle cx="1250.5" cy="120.23" r="8.45" fill="#d6bcf2"/>
<circle cx="1350.6" cy="126.86" r="8.45" fill="#d6bcf2"/>
<circle cx="1450.7" cy="132.89" r="8.45" fill="#d6bcf2"/>
<circle cx="1550.8" cy="140.19" r="8.45" fill="#d6bcf2"/>
<path d="M1000.25,108.41 L1020.27,108.92 L1050.3,109.81 L1150.4,114.59 L1250.5,120.23 L1350.6,126.86 L1450.7,132.89 L1550.8,140.19" fill="none" stroke="#62309e" stroke-width="3.6" stroke-dasharray="13.7 5.9"/>
<circle cx="1000.25" cy="108.41" r="8.45" fill="none" stroke="#62309e" stroke-width="2.3"/>
<circle cx="1020.27" cy="108.92" r="8.45" fill="none" stroke="#62309e" stroke-width="2.3"/>
<circle cx="1050.3" cy="109.81" r="8.45" fill="none" stroke="#62309e" stroke-width="2.3"/>
<circle cx="1150.4" cy="114.59" r="8.45" fill="none" stroke="#62309e" stroke-width="2.3"/>
<circle cx="1250.5" cy="120.23" r="8.45" fill="none" stroke="#62309e" stroke-width="2.3"/>
<circle cx="1350.6" cy="126.86" r="8.45" fill="none" stroke="#62309e" stroke-width="2.3"/>
<circle cx="1450.7" cy="132.89" r="8.45" fill="none" stroke="#62309e" stroke-width="2.3"/>
<circle cx="1550.8" cy="140.19" r="8.45" fill="none" stroke="#62309e" stroke-width="2.3"/>
<line x1="931.8" y1="132.4" x2="1580.1" y2="132.4" stroke="#000" stroke-width="2.6" stroke-dasharray="9.1 3.9"/>
<line x1="1000.9" y1="132.4" x2="1000.9" y2="376" stroke="#000" stroke-width="2.6" stroke-dasharray="9.1 3.9"/>
<line x1="1430.5" y1="132.4" x2="1430.5" y2="376" stroke="#a2142f" stroke-width="2.6" stroke-dasharray="9.1 3.9"/>
<circle cx="960.21" cy="108.41" r="8.45" fill="#a2ea86"/>
<circle cx="970.22" cy="108.41" r="8.45" fill="#a2ea86"/>
<circle cx="980.23" cy="108.71" r="8.45" fill="#a2ea86"/>
<circle cx="990.24" cy="118.1" r="8.45" fill="#a2ea86"/>
<circle cx="1000.25" cy="125.19" r="8.45" fill="#a2ea86"/>
<circle cx="1010.26" cy="134.1" r="8.45" fill="#a2ea86"/>
<circle cx="1020.27" cy="142.09" r="8.45" fill="#a2ea86"/>
<circle cx="1050.3" cy="166.42" r="8.45" fill="#a2ea86"/>
<circle cx="1100.35" cy="213.4" r="8.45" fill="#a2ea86"/>
<circle cx="1150.4" cy="268.41" r="8.45" fill="#a2ea86"/>
<path d="M960.21,108.41 L970.22,108.41 L980.23,108.71 L990.24,118.1 L1000.25,125.19 L1010.26,134.1 L1020.27,142.09 L1050.3,166.42 L1100.35,213.4 L1150.4,268.41" fill="none" stroke="#2a8f2a" stroke-width="3.6" stroke-dasharray="13.7 5.9"/>
<circle cx="960.21" cy="108.41" r="8.45" fill="none" stroke="#2a8f2a" stroke-width="2.3"/>
<circle cx="970.22" cy="108.41" r="8.45" fill="none" stroke="#2a8f2a" stroke-width="2.3"/>
<circle cx="980.23" cy="108.71" r="8.45" fill="none" stroke="#2a8f2a" stroke-width="2.3"/>
<circle cx="990.24" cy="118.1" r="8.45" fill="none" stroke="#2a8f2a" stroke-width="2.3"/>
<circle cx="1000.25" cy="125.19" r="8.45" fill="none" stroke="#2a8f2a" stroke-width="2.3"/>
<circle cx="1010.26" cy="134.1" r="8.45" fill="none" stroke="#2a8f2a" stroke-width="2.3"/>
<circle cx="1020.27" cy="142.09" r="8.45" fill="none" stroke="#2a8f2a" stroke-width="2.3"/>
<circle cx="1050.3" cy="166.42" r="8.45" fill="none" stroke="#2a8f2a" stroke-width="2.3"/>
<circle cx="1100.35" cy="213.4" r="8.45" fill="none" stroke="#2a8f2a" stroke-width="2.3"/>
<circle cx="1150.4" cy="268.41" r="8.45" fill="none" stroke="#2a8f2a" stroke-width="2.3"/>
</g>
<rect x="931.8" y="19.7" width="648.3" height="356.3" fill="none" stroke="#000" stroke-width="1.85"/>
<line x1="922.88" y1="49.4" x2="931.8" y2="49.4" stroke="#000" stroke-width="1.85"/>
<text x="914.1" y="63" text-anchor="end" font-size="38.5">1.2</text>
<line x1="922.88" y1="168.2" x2="931.8" y2="168.2" stroke="#000" stroke-width="1.85"/>
<text x="914.1" y="181.8" text-anchor="end" font-size="38.5">0.8</text>
<line x1="922.88" y1="287" x2="931.8" y2="287" stroke="#000" stroke-width="1.85"/>
<text x="914.1" y="300.6" text-anchor="end" font-size="38.5">0.4</text>
<line x1="1000.75" y1="376" x2="1000.75" y2="384.93" stroke="#000" stroke-width="1.85"/>
<text x="1000.75" y="419.8" text-anchor="middle" font-size="38.5">5</text>
<line x1="1150.4" y1="376" x2="1150.4" y2="384.93" stroke="#000" stroke-width="1.85"/>
<text x="1150.4" y="419.8" text-anchor="middle" font-size="38.5">20</text>
<line x1="1350.6" y1="376" x2="1350.6" y2="384.93" stroke="#000" stroke-width="1.85"/>
<text x="1350.6" y="419.8" text-anchor="middle" font-size="38.5">40</text>
<line x1="1550.8" y1="376" x2="1550.8" y2="384.93" stroke="#000" stroke-width="1.85"/>
<text x="1550.8" y="419.8" text-anchor="middle" font-size="38.5">60</text>
<text class="c"><tspan x="1419.03" y="413.75" font-size="43.5">I</tspan><tspan x="1436.1" y="419.35" font-size="30.5">th</tspan></text>
<text><tspan x="959.34" y="59.2" font-size="43.5">(d)</tspan></text>
<text transform="translate(846.8,370.6) rotate(-90)"><tspan x="-1.25" y="0" font-size="43.5">Minimum radius</tspan><tspan x="296.85" y="0" font-size="43.5">/</tspan><tspan x="312.83" y="0" font-size="43.5">r</tspan><tspan x="328.82" y="6.9" font-size="31">0</tspan></text>
<text><tspan x="1201.01" y="471.7" font-size="49.5">I</tspan><tspan x="1218.68" y="478" font-size="34.7">0</tspan><tspan x="1243.8" y="471.7" font-size="49.5">/</tspan><tspan x="1262.31" y="471.7" font-size="49.5">I</tspan><tspan x="1279.48" y="478" font-size="34.7">cr</tspan></text>
<path d="M1154,166.4 H1232.8" fill="none" stroke="#62309e" stroke-width="3.6" stroke-dasharray="13.7 5.9"/>
<path d="M1154,221 H1232.8" fill="none" stroke="#2a8f2a" stroke-width="3.6" stroke-dasharray="13.7 5.9"/>
<text><tspan x="1262.67" y="179.5" font-size="38.5">GVD on</tspan></text>
<text><tspan x="1262.67" y="234.1" font-size="38.5">GVD off</tspan></text>
</g>
<g id="panel-e">
<clipPath id="clip-e"><rect x="931.7" y="549" width="648.2" height="509.1"/></clipPath>
<g clip-path="url(#clip-e)">
<circle cx="960.7" cy="705.75" r="8.6" fill="#fb7c7c" fill-opacity="1" stroke="#d6504f" stroke-width="2.2"/>
<circle cx="1096.16" cy="956.86" r="8.6" fill="#fb7c7c" fill-opacity="1" stroke="#d6504f" stroke-width="2.2"/>
<circle cx="1175.4" cy="1004.13" r="8.6" fill="#fb7c7c" fill-opacity="1" stroke="#d6504f" stroke-width="2.2"/>
<circle cx="1231.63" cy="1020.22" r="8.6" fill="#fb7c7c" fill-opacity="1" stroke="#d6504f" stroke-width="2.2"/>
<circle cx="1340.99" cy="1033.91" r="8.6" fill="#fb7c7c" fill-opacity="1" stroke="#d6504f" stroke-width="2.2"/>
<circle cx="1410.7" cy="1037.31" r="8.6" fill="#fb7c7c" fill-opacity="1" stroke="#d6504f" stroke-width="2.2"/>
<circle cx="1489.94" cy="1039.46" r="8.6" fill="#fb7c7c" fill-opacity="1" stroke="#d6504f" stroke-width="2.2"/>
<circle cx="1546.16" cy="1040.04" r="8.6" fill="#fb7c7c" fill-opacity="1" stroke="#d6504f" stroke-width="2.2"/>
<circle cx="960.7" cy="764.8" r="8.6" fill="#a3d4f7" fill-opacity="0.9" stroke="#2a78b4" stroke-width="2.2"/>
<circle cx="1096.16" cy="965.4" r="8.6" fill="#a3d4f7" fill-opacity="0.9" stroke="#2a78b4" stroke-width="2.2"/>
<circle cx="1175.4" cy="1008.78" r="8.6" fill="#a3d4f7" fill-opacity="0.9" stroke="#2a78b4" stroke-width="2.2"/>
<circle cx="1231.63" cy="1022.79" r="8.6" fill="#a3d4f7" fill-opacity="0.9" stroke="#2a78b4" stroke-width="2.2"/>
<circle cx="1340.99" cy="1034.49" r="8.6" fill="#a3d4f7" fill-opacity="0.9" stroke="#2a78b4" stroke-width="2.2"/>
<circle cx="1410.7" cy="1037.72" r="8.6" fill="#a3d4f7" fill-opacity="0.9" stroke="#2a78b4" stroke-width="2.2"/>
<circle cx="1489.94" cy="1039.79" r="8.6" fill="#a3d4f7" fill-opacity="0.9" stroke="#2a78b4" stroke-width="2.2"/>
<circle cx="1546.16" cy="1040.29" r="8.6" fill="#a3d4f7" fill-opacity="0.9" stroke="#2a78b4" stroke-width="2.2"/>
<line x1="931.7" y1="1041.78" x2="1579.9" y2="1041.78" stroke="#000" stroke-width="2.1" stroke-dasharray="8.5 4.3"/>
<path d="M960.7,707.58 L996.33,810.96 L1026.46,873.3 L1052.55,913.76 L1075.57,941.5 L1096.16,961.34 L1114.79,976.02 L1131.8,987.19 L1147.44,995.88 L1161.92,1002.77 L1175.4,1008.34 L1188.02,1012.89 L1199.87,1016.66 L1211.04,1019.82 L1221.6,1022.5 L1231.63,1024.78 L1241.16,1026.75 L1250.25,1028.45 L1258.94,1029.94 L1267.26,1031.24 L1275.24,1032.4 L1282.9,1033.42 L1290.28,1034.33 L1297.38,1035.14 L1304.24,1035.87 L1310.87,1036.53 L1317.28,1037.13 L1323.48,1037.67 L1329.49,1038.16 L1335.33,1038.61 L1340.99,1039.02 L1346.5,1039.4 L1351.85,1039.75 L1357.07,1040.07 L1362.14,1040.37 L1367.09,1040.64 L1371.92,1040.9 L1376.63,1041.13 L1381.22,1041.36 L1385.72,1041.56 L1390.11,1041.75 L1394.4,1041.93 L1398.61,1042.1 L1402.72,1042.26 L1406.75,1042.41 L1410.7,1042.55 L1414.57,1042.68 L1418.37,1042.8 L1422.09,1042.92 L1425.74,1043.03 L1429.33,1043.13 L1432.85,1043.23 L1436.31,1043.33 L1439.71,1043.42 L1443.05,1043.5 L1446.33,1043.58 L1449.56,1043.66 L1452.74,1043.73 L1455.87,1043.8 L1458.94,1043.86 L1461.97,1043.93 L1464.96,1043.99 L1467.9,1044.05 L1470.79,1044.1 L1473.65,1044.15 L1476.46,1044.2 L1479.23,1044.25 L1481.96,1044.3 L1484.66,1044.34 L1487.32,1044.39 L1489.94,1044.43 L1492.53,1044.47 L1495.08,1044.5 L1497.61,1044.54 L1500.1,1044.57 L1502.55,1044.61 L1504.98,1044.64 L1507.38,1044.67 L1509.75,1044.7 L1512.09,1044.73 L1514.4,1044.76 L1516.69,1044.79 L1518.95,1044.81 L1521.18,1044.84 L1523.39,1044.86 L1525.57,1044.89 L1527.73,1044.91 L1529.87,1044.93 L1531.98,1044.95 L1534.07,1044.97 L1536.14,1044.99 L1538.19,1045.01 L1540.21,1045.03 L1542.22,1045.05 L1544.2,1045.07 L1546.16,1045.08 L1548.11,1045.1 L1550.03,1045.12 L1551.94,1045.13" fill="none" stroke="#000" stroke-width="2.1" stroke-linejoin="round"/>
</g>
<rect x="931.7" y="549" width="648.2" height="509.1" fill="none" stroke="#000" stroke-width="1.85"/>
<line x1="922.78" y1="1041.78" x2="931.7" y2="1041.78" stroke="#000" stroke-width="1.85"/>
<text x="914.1" y="1055.48" text-anchor="end" font-size="38.5">5</text>
<line x1="922.78" y1="963" x2="931.7" y2="963" stroke="#000" stroke-width="1.85"/>
<text x="914.1" y="976.7" text-anchor="end" font-size="38.5">100</text>
<line x1="922.78" y1="880.07" x2="931.7" y2="880.07" stroke="#000" stroke-width="1.85"/>
<text x="914.1" y="893.77" text-anchor="end" font-size="38.5">200</text>
<line x1="922.78" y1="797.14" x2="931.7" y2="797.14" stroke="#000" stroke-width="1.85"/>
<text x="914.1" y="810.84" text-anchor="end" font-size="38.5">300</text>
<line x1="922.78" y1="714.21" x2="931.7" y2="714.21" stroke="#000" stroke-width="1.85"/>
<text x="914.1" y="727.91" text-anchor="end" font-size="38.5">400</text>
<line x1="922.78" y1="631.28" x2="931.7" y2="631.28" stroke="#000" stroke-width="1.85"/>
<text x="914.1" y="644.98" text-anchor="end" font-size="38.5">500</text>
<line x1="960.7" y1="1058.1" x2="960.7" y2="1067.02" stroke="#000" stroke-width="1.85"/>
<text x="960.7" y="1101.6" text-anchor="middle" font-size="38.5">1</text>
<line x1="1096.16" y1="1058.1" x2="1096.16" y2="1067.02" stroke="#000" stroke-width="1.85"/>
<text x="1096.16" y="1101.6" text-anchor="middle" font-size="38.5">2</text>
<line x1="1175.4" y1="1058.1" x2="1175.4" y2="1067.02" stroke="#000" stroke-width="1.85"/>
<text x="1175.4" y="1101.6" text-anchor="middle" font-size="38.5">3</text>
<line x1="1231.63" y1="1058.1" x2="1231.63" y2="1067.02" stroke="#000" stroke-width="1.85"/>
<text x="1231.63" y="1101.6" text-anchor="middle" font-size="38.5">4</text>
<line x1="1340.99" y1="1058.1" x2="1340.99" y2="1067.02" stroke="#000" stroke-width="1.85"/>
<text x="1340.99" y="1101.6" text-anchor="middle" font-size="38.5">7</text>
<line x1="1410.7" y1="1058.1" x2="1410.7" y2="1067.02" stroke="#000" stroke-width="1.85"/>
<text x="1410.7" y="1101.6" text-anchor="middle" font-size="38.5">10</text>
<line x1="1489.94" y1="1058.1" x2="1489.94" y2="1067.02" stroke="#000" stroke-width="1.85"/>
<text x="1489.94" y="1101.6" text-anchor="middle" font-size="38.5">15</text>
<line x1="1546.16" y1="1058.1" x2="1546.16" y2="1067.02" stroke="#000" stroke-width="1.85"/>
<text x="1546.16" y="1101.6" text-anchor="middle" font-size="38.5">20</text>
<line x1="940.11" y1="1058.1" x2="940.11" y2="1063.62" stroke="#000" stroke-width="1.4"/>
<line x1="1275.24" y1="1058.1" x2="1275.24" y2="1063.62" stroke="#000" stroke-width="1.4"/>
<line x1="1310.87" y1="1058.1" x2="1310.87" y2="1063.62" stroke="#000" stroke-width="1.4"/>
<line x1="1367.09" y1="1058.1" x2="1367.09" y2="1063.62" stroke="#000" stroke-width="1.4"/>
<line x1="1390.11" y1="1058.1" x2="1390.11" y2="1063.62" stroke="#000" stroke-width="1.4"/>
<text><tspan x="960.19" y="588" font-size="43.5">(e)</tspan></text>
<text transform="translate(835.6,861.3) rotate(-90)"><tspan x="-1.79" y="0" font-size="49.5">I</tspan><tspan x="16.86" y="6.6" font-size="34.7">th</tspan><tspan x="50.2" y="0" font-size="49.5">/</tspan><tspan x="68.71" y="0" font-size="49.5">I</tspan><tspan x="88.18" y="6.6" font-size="34.7">cr</tspan></text>
<text><tspan x="1158.82" y="1154" font-size="49.5">N</tspan><tspan x="1200.82" y="1154" font-size="49.5">(</tspan><tspan x="1215.72" y="1154" font-size="43.81" font-family="'DejaVu Serif', serif">τ</tspan><tspan x="1240.68" y="1160.4" font-size="34.7">0</tspan><tspan x="1266" y="1154" font-size="49.5">/</tspan><tspan x="1285.36" y="1154" font-size="49.5">T</tspan><tspan x="1315.68" y="1160.4" font-size="34.7">0</tspan><tspan x="1334.15" y="1154" font-size="49.5">)</tspan></text>
<circle cx="1199.7" cy="859.75" r="8.6" fill="#fb7c7c" fill-opacity="1" stroke="#d6504f" stroke-width="2.2"/>
<circle cx="1199.7" cy="903.1" r="8.6" fill="#a3d4f7" fill-opacity="1" stroke="#2a78b4" stroke-width="2.2"/>
<line x1="1160.3" y1="942.8" x2="1240" y2="942.8" stroke="#000" stroke-width="2.1"/>
<text><tspan x="1242.64" y="870.25" font-size="38.5">Normal</tspan></text>
<text><tspan x="1243.37" y="913.2" font-size="38.5">Anomalous</tspan></text>
<text><tspan x="1242.36" y="956.9" font-size="38.5">I</tspan><tspan x="1254.91" y="962.1" font-size="27.5">disp</tspan><tspan x="1307.5" y="956.9" font-size="38.5">/</tspan><tspan x="1323.91" y="956.9" font-size="38.5">I</tspan><tspan x="1336.45" y="962.1" font-size="27.5">cr</tspan></text>
<rect x="1173.7" y="549" width="406.2" height="171.4" fill="#fff" stroke="#000" stroke-width="1.85"/>
<circle cx="1191.7" cy="557.35" r="5.15" fill="#d8d8d8" fill-opacity="1" stroke="#222" stroke-width="2"/>
<circle cx="1211.12" cy="648.7" r="5.15" fill="#d8d8d8" fill-opacity="1" stroke="#222" stroke-width="2"/>
<circle cx="1230.54" cy="655" r="5.15" fill="#d8d8d8" fill-opacity="1" stroke="#222" stroke-width="2"/>
<circle cx="1249.96" cy="657.4" r="5.15" fill="#d8d8d8" fill-opacity="1" stroke="#222" stroke-width="2"/>
<circle cx="1308.22" cy="671" r="5.15" fill="#d8d8d8" fill-opacity="1" stroke="#222" stroke-width="2"/>
<circle cx="1366.48" cy="678.2" r="5.15" fill="#d8d8d8" fill-opacity="1" stroke="#222" stroke-width="2"/>
<circle cx="1463.58" cy="696.6" r="5.15" fill="#d8d8d8" fill-opacity="1" stroke="#222" stroke-width="2"/>
<circle cx="1560.68" cy="705.4" r="5.15" fill="#d8d8d8" fill-opacity="1" stroke="#222" stroke-width="2"/>
<line x1="1164.78" y1="720.4" x2="1173.7" y2="720.4" stroke="#000" stroke-width="1.85"/>
<text x="1156.5" y="730.8" text-anchor="end" font-size="29">1.0</text>
<line x1="1164.78" y1="642.85" x2="1173.7" y2="642.85" stroke="#000" stroke-width="1.85"/>
<text x="1156.5" y="653.25" text-anchor="end" font-size="29">1.1</text>
<line x1="1164.78" y1="565.3" x2="1173.7" y2="565.3" stroke="#000" stroke-width="1.85"/>
<text x="1156.5" y="575.7" text-anchor="end" font-size="29">1.2</text>
<line x1="1191.7" y1="720.4" x2="1191.7" y2="729.32" stroke="#000" stroke-width="1.85"/>
<text x="1191.7" y="758.1" text-anchor="middle" font-size="29">1</text>
<line x1="1366.48" y1="720.4" x2="1366.48" y2="729.32" stroke="#000" stroke-width="1.85"/>
<text x="1366.48" y="758.1" text-anchor="middle" font-size="29">10</text>
<line x1="1560.68" y1="720.4" x2="1560.68" y2="729.32" stroke="#000" stroke-width="1.85"/>
<text x="1560.68" y="758.1" text-anchor="middle" font-size="29">20</text>
<text transform="translate(1103.6,665.4) rotate(-90)"><tspan x="-0.84" y="0" font-size="29">Ratio</tspan></text>
<text><tspan x="1311.35" y="786.2" font-size="29.45">N</tspan><tspan x="1336.34" y="786.2" font-size="29.45">(</tspan><tspan x="1345.21" y="786.2" font-size="26.07" font-family="'DejaVu Serif', serif">τ</tspan><tspan x="1360.05" y="790.01" font-size="20.65">0</tspan><tspan x="1375.12" y="786.2" font-size="29.45">/</tspan><tspan x="1386.64" y="786.2" font-size="29.45">T</tspan><tspan x="1404.68" y="790.01" font-size="20.65">0</tspan><tspan x="1415.67" y="786.2" font-size="29.45">)</tspan></text>
</g>
</svg></body></html>
